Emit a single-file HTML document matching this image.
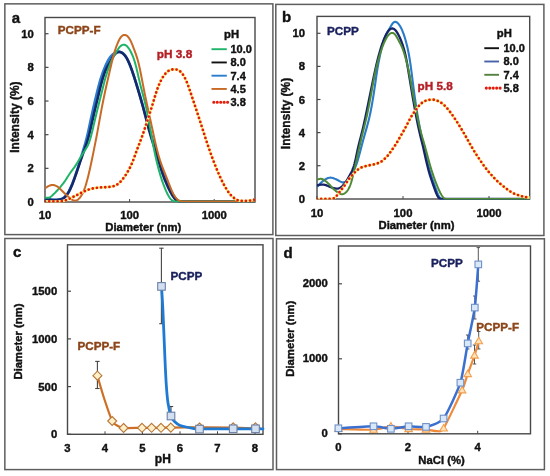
<!DOCTYPE html>
<html><head><meta charset="utf-8"><style>
html,body{margin:0;padding:0;background:#fff;}
svg{display:block;filter:blur(0.3px);}
text{font-family:"Liberation Sans", sans-serif;font-weight:bold;}
</style></head><body>
<svg width="550" height="476" viewBox="0 0 550 476">
<defs>
<clipPath id="clipA"><rect x="45" y="17.5" width="210" height="185"/></clipPath>
<clipPath id="clipB"><rect x="317" y="16.4" width="212.7" height="183.1"/></clipPath>
</defs>
<rect x="0" y="0" width="550" height="476" fill="#fff"/>
<rect x="4.85" y="3.85" width="268.05" height="230.75" fill="none" stroke="#5e5e5e" stroke-width="1.5"/>
<rect x="275.8" y="4.4" width="268.1" height="231.1" fill="none" stroke="#5e5e5e" stroke-width="1.5"/>
<rect x="4.85" y="238.5" width="268.15" height="231.1" fill="none" stroke="#5e5e5e" stroke-width="1.5"/>
<rect x="276.5" y="238.8" width="267.9" height="230.8" fill="none" stroke="#5e5e5e" stroke-width="1.5"/>
<rect x="45" y="17.5" width="210" height="184.5" fill="none" stroke="#484848" stroke-width="1.4"/>
<line x1="45" y1="202" x2="48.5" y2="202" stroke="#484848" stroke-width="1.2"/>
<text x="33.8" y="206" font-size="11.3" text-anchor="end" fill="#111" stroke="#111" stroke-width="0.4">0</text>
<line x1="45" y1="168.34" x2="48.5" y2="168.34" stroke="#484848" stroke-width="1.2"/>
<text x="33.8" y="172.34" font-size="11.3" text-anchor="end" fill="#111" stroke="#111" stroke-width="0.4">2</text>
<line x1="45" y1="134.68" x2="48.5" y2="134.68" stroke="#484848" stroke-width="1.2"/>
<text x="33.8" y="138.68" font-size="11.3" text-anchor="end" fill="#111" stroke="#111" stroke-width="0.4">4</text>
<line x1="45" y1="101.02" x2="48.5" y2="101.02" stroke="#484848" stroke-width="1.2"/>
<text x="33.8" y="105.02" font-size="11.3" text-anchor="end" fill="#111" stroke="#111" stroke-width="0.4">6</text>
<line x1="45" y1="67.36" x2="48.5" y2="67.36" stroke="#484848" stroke-width="1.2"/>
<text x="33.8" y="71.36" font-size="11.3" text-anchor="end" fill="#111" stroke="#111" stroke-width="0.4">8</text>
<line x1="45" y1="33.7" x2="48.5" y2="33.7" stroke="#484848" stroke-width="1.2"/>
<text x="33.8" y="37.7" font-size="11.3" text-anchor="end" fill="#111" stroke="#111" stroke-width="0.4">10</text>
<line x1="45" y1="202" x2="45" y2="199" stroke="#484848" stroke-width="1"/>
<text x="45" y="219" font-size="11.3" text-anchor="middle" fill="#111" stroke="#111" stroke-width="0.4">10</text>
<line x1="129.6" y1="202" x2="129.6" y2="199" stroke="#484848" stroke-width="1"/>
<text x="129.6" y="219" font-size="11.3" text-anchor="middle" fill="#111" stroke="#111" stroke-width="0.4">100</text>
<line x1="214.2" y1="202" x2="214.2" y2="199" stroke="#484848" stroke-width="1"/>
<text x="214.2" y="219" font-size="11.3" text-anchor="middle" fill="#111" stroke="#111" stroke-width="0.4">1000</text>
<text x="143.3" y="231.4" font-size="11.3" text-anchor="middle" fill="#111" stroke="#111" stroke-width="0.4">Diameter (nm)</text>
<text x="19.4" y="117.1" font-size="12" text-anchor="middle" fill="#111" stroke="#111" stroke-width="0.4" transform="rotate(-90 19.4 117.1)">Intensity (%)</text>
<text x="11.8" y="22.7" font-size="15" text-anchor="start" fill="#111" stroke="#111" stroke-width="0.4">a</text>
<text x="57.7" y="33.8" font-size="11.7" text-anchor="start" fill="#8c4519" stroke="#8c4519" stroke-width="0.4">PCPP-F</text>
<text x="156.8" y="57.6" font-size="11.8" text-anchor="start" fill="#b41f26" stroke="#b41f26" stroke-width="0.4">pH 3.8</text>
<text x="224" y="38.3" font-size="11.3" text-anchor="start" fill="#111" stroke="#111" stroke-width="0.4">pH</text>
<line x1="211.5" y1="49.2" x2="226.8" y2="49.2" stroke="#1fb467" stroke-width="1.9"/>
<text x="230.5" y="53" font-size="11" text-anchor="start" fill="#111" stroke="#111" stroke-width="0.4">10.0</text>
<line x1="211.5" y1="62.45" x2="226.8" y2="62.45" stroke="#111111" stroke-width="1.9"/>
<text x="230.5" y="66.25" font-size="11" text-anchor="start" fill="#111" stroke="#111" stroke-width="0.4">8.0</text>
<line x1="211.5" y1="75.7" x2="226.8" y2="75.7" stroke="#2a7ccc" stroke-width="1.9"/>
<text x="230.5" y="79.5" font-size="11" text-anchor="start" fill="#111" stroke="#111" stroke-width="0.4">7.4</text>
<line x1="211.5" y1="88.95" x2="226.8" y2="88.95" stroke="#c86a26" stroke-width="1.9"/>
<text x="230.5" y="92.75" font-size="11" text-anchor="start" fill="#111" stroke="#111" stroke-width="0.4">4.5</text>
<path d="M213.8,102.2 L227.7,102.2" fill="none" stroke="#fff9d0" stroke-width="2.6"/>
<path d="M213.8,102.2 L227.7,102.2" fill="none" stroke="#e31a14" stroke-width="3.1" stroke-linecap="round" stroke-dasharray="0 3.45"/>
<text x="230.5" y="106" font-size="11" text-anchor="start" fill="#111" stroke="#111" stroke-width="0.4">3.8</text>
<g clip-path="url(#clipA)">
<path d="M45.00,198.29 L45.50,198.41 L46.00,198.55 L46.50,198.69 L47.00,198.84 L47.50,198.99 L48.00,199.13 L48.50,199.25 L49.00,199.37 L49.50,199.47 L50.00,199.56 L50.50,199.64 L51.00,199.70 L51.50,199.76 L52.00,199.81 L52.50,199.85 L53.00,199.88 L53.50,199.90 L54.00,199.92 L54.50,199.92 L55.00,199.92 L55.50,199.91 L56.00,199.88 L56.50,199.85 L57.00,199.81 L57.50,199.75 L58.00,199.69 L58.50,199.61 L59.00,199.52 L59.50,199.42 L60.00,199.30 L60.50,199.16 L61.00,198.99 L61.50,198.81 L62.00,198.59 L62.50,198.34 L63.00,198.06 L63.50,197.73 L64.00,197.36 L64.50,196.94 L65.00,196.48 L65.50,195.97 L66.00,195.40 L66.50,194.78 L67.00,194.11 L67.50,193.38 L68.00,192.60 L68.50,191.77 L69.00,190.88 L69.50,189.93 L70.00,188.93 L70.50,187.88 L71.00,186.78 L71.50,185.62 L72.00,184.42 L72.50,183.17 L73.00,181.88 L73.50,180.55 L74.00,179.19 L74.50,177.79 L75.00,176.37 L75.50,174.92 L76.00,173.45 L76.50,171.96 L77.00,170.45 L77.50,168.93 L78.00,167.38 L78.50,165.80 L79.00,164.20 L79.50,162.58 L80.00,160.93 L80.50,159.26 L81.00,157.58 L81.50,155.89 L82.00,154.21 L82.50,152.54 L83.00,150.89 L83.50,149.25 L84.00,147.61 L84.50,145.95 L85.00,144.26 L85.50,142.52 L86.00,140.70 L86.50,138.79 L87.00,136.79 L87.50,134.69 L88.00,132.50 L88.50,130.25 L89.00,127.94 L89.50,125.60 L90.00,123.24 L90.50,120.89 L91.00,118.56 L91.50,116.26 L92.00,113.99 L92.50,111.75 L93.00,109.54 L93.50,107.35 L94.00,105.19 L94.50,103.04 L95.00,100.92 L95.50,98.80 L96.00,96.70 L96.50,94.62 L97.00,92.56 L97.50,90.53 L98.00,88.54 L98.50,86.60 L99.00,84.72 L99.50,82.90 L100.00,81.15 L100.50,79.47 L101.00,77.86 L101.50,76.32 L102.00,74.85 L102.50,73.42 L103.00,72.05 L103.50,70.72 L104.00,69.42 L104.50,68.17 L105.00,66.94 L105.50,65.76 L106.00,64.62 L106.50,63.52 L107.00,62.47 L107.50,61.48 L108.00,60.55 L108.50,59.67 L109.00,58.86 L109.50,58.10 L110.00,57.41 L110.50,56.76 L111.00,56.17 L111.50,55.62 L112.00,55.12 L112.50,54.65 L113.00,54.22 L113.50,53.82 L114.00,53.46 L114.50,53.13 L115.00,52.83 L115.50,52.57 L116.00,52.35 L116.50,52.16 L117.00,52.02 L117.50,51.92 L118.00,51.86 L118.50,51.84 L119.00,51.86 L119.50,51.91 L120.00,52.00 L120.50,52.13 L121.00,52.29 L121.50,52.49 L122.00,52.72 L122.50,53.00 L123.00,53.33 L123.50,53.71 L124.00,54.16 L124.50,54.68 L125.00,55.28 L125.50,55.96 L126.00,56.72 L126.50,57.57 L127.00,58.49 L127.50,59.49 L128.00,60.55 L128.50,61.69 L129.00,62.88 L129.50,64.12 L130.00,65.41 L130.50,66.74 L131.00,68.09 L131.50,69.47 L132.00,70.88 L132.50,72.29 L133.00,73.73 L133.50,75.18 L134.00,76.64 L134.50,78.13 L135.00,79.63 L135.50,81.15 L136.00,82.69 L136.50,84.26 L137.00,85.85 L137.50,87.47 L138.00,89.11 L138.50,90.77 L139.00,92.45 L139.50,94.15 L140.00,95.87 L140.50,97.61 L141.00,99.36 L141.50,101.12 L142.00,102.90 L142.50,104.68 L143.00,106.47 L143.50,108.26 L144.00,110.07 L144.50,111.88 L145.00,113.69 L145.50,115.51 L146.00,117.33 L146.50,119.14 L147.00,120.95 L147.50,122.75 L148.00,124.53 L148.50,126.30 L149.00,128.04 L149.50,129.77 L150.00,131.46 L150.50,133.14 L151.00,134.79 L151.50,136.43 L152.00,138.05 L152.50,139.65 L153.00,141.24 L153.50,142.82 L154.00,144.40 L154.50,145.97 L155.00,147.55 L155.50,149.13 L156.00,150.71 L156.50,152.30 L157.00,153.90 L157.50,155.50 L158.00,157.10 L158.50,158.71 L159.00,160.31 L159.50,161.90 L160.00,163.49 L160.50,165.05 L161.00,166.60 L161.50,168.13 L162.00,169.63 L162.50,171.10 L163.00,172.53 L163.50,173.93 L164.00,175.29 L164.50,176.61 L165.00,177.89 L165.50,179.14 L166.00,180.35 L166.50,181.53 L167.00,182.69 L167.50,183.81 L168.00,184.90 L168.50,185.97 L169.00,187.02 L169.50,188.05 L170.00,189.05 L170.50,190.03 L171.00,191.00 L171.50,191.94 L172.00,192.86 L172.50,193.75 L173.00,194.62 L173.50,195.46 L174.00,196.26 L174.50,197.02 L175.00,197.72 L175.50,198.37 L176.00,198.96 L176.50,199.49 L177.00,199.94 L177.50,200.33 L178.00,200.64 L178.50,200.89 L179.00,201.09 L179.50,201.23 L180.00,201.33 L180.50,201.40 L181.00,201.44 L181.50,201.47 L182.00,201.48 L182.50,201.49 L183.00,201.50 L183.50,201.50 L184.00,201.50 L184.50,201.50 L185.00,201.50 L185.50,201.50 L186.00,201.50 L186.50,201.50 L187.00,201.50 L187.50,201.50 L188.00,201.50 L188.50,201.50 L189.00,201.50 L189.50,201.50 L190.00,201.50 L190.50,201.50 L191.00,201.50 L191.50,201.50 L192.00,201.50 L192.50,201.50 L193.00,201.50 L193.50,201.50 L194.00,201.50 L194.50,201.50 L195.00,201.50 L195.50,201.50 L196.00,201.50 L196.50,201.50 L197.00,201.50 L197.50,201.50 L198.00,201.50 L198.50,201.50 L199.00,201.50 L199.50,201.50 L200.00,201.50 L200.50,201.50 L201.00,201.50 L201.50,201.50 L202.00,201.50 L202.50,201.50 L203.00,201.50 L203.50,201.50 L204.00,201.50 L204.50,201.50 L205.00,201.50 L205.50,201.50 L206.00,201.50 L206.50,201.50 L207.00,201.50 L207.50,201.50 L208.00,201.50 L208.50,201.50 L209.00,201.50 L209.50,201.50 L210.00,201.50 L210.50,201.50 L211.00,201.50 L211.50,201.50 L212.00,201.50 L212.50,201.50 L213.00,201.50 L213.50,201.50 L214.00,201.50 L214.50,201.50 L215.00,201.50 L215.50,201.50 L216.00,201.50 L216.50,201.50 L217.00,201.50 L217.50,201.50 L218.00,201.50 L218.50,201.50 L219.00,201.50 L219.50,201.50 L220.00,201.50 L220.50,201.50 L221.00,201.50 L221.50,201.50 L222.00,201.50 L222.50,201.50 L223.00,201.50 L223.50,201.50 L224.00,201.50 L224.50,201.50 L225.00,201.50 L225.50,201.50 L226.00,201.50 L226.50,201.50 L227.00,201.50 L227.50,201.50 L228.00,201.50 L228.50,201.50 L229.00,201.50 L229.50,201.50 L230.00,201.50 L230.50,201.50 L231.00,201.50 L231.50,201.50 L232.00,201.50 L232.50,201.50 L233.00,201.50 L233.50,201.50 L234.00,201.50 L234.50,201.50 L235.00,201.50 L235.50,201.50 L236.00,201.50 L236.50,201.50 L237.00,201.50 L237.50,201.50 L238.00,201.50 L238.50,201.50 L239.00,201.50 L239.50,201.50 L240.00,201.50 L240.50,201.50 L241.00,201.50 L241.50,201.50 L242.00,201.50 L242.50,201.50 L243.00,201.50 L243.50,201.50 L244.00,201.50 L244.50,201.50 L245.00,201.50 L245.50,201.50 L246.00,201.50 L246.50,201.50 L247.00,201.50 L247.50,201.50 L248.00,201.50 L248.50,201.50 L249.00,201.50 L249.50,201.50 L250.00,201.50 L250.50,201.50 L251.00,201.50 L251.50,201.50 L252.00,201.50 L252.50,201.50 L253.00,201.50 L253.50,201.50 L254.00,201.50 L254.50,201.50 L255.00,201.50" fill="none" stroke="#2a7ccc" stroke-width="2.6" stroke-linejoin="round" stroke-linecap="round"/>
<path d="M45.00,198.29 L45.50,198.41 L46.00,198.55 L46.50,198.69 L47.00,198.84 L47.50,198.99 L48.00,199.14 L48.50,199.27 L49.00,199.39 L49.50,199.50 L50.00,199.59 L50.50,199.68 L51.00,199.75 L51.50,199.82 L52.00,199.87 L52.50,199.92 L53.00,199.96 L53.50,199.99 L54.00,200.01 L54.50,200.02 L55.00,200.03 L55.50,200.02 L56.00,200.01 L56.50,199.99 L57.00,199.95 L57.50,199.91 L58.00,199.87 L58.50,199.81 L59.00,199.74 L59.50,199.65 L60.00,199.56 L60.50,199.44 L61.00,199.30 L61.50,199.14 L62.00,198.96 L62.50,198.74 L63.00,198.48 L63.50,198.18 L64.00,197.84 L64.50,197.46 L65.00,197.02 L65.50,196.53 L66.00,195.99 L66.50,195.40 L67.00,194.75 L67.50,194.04 L68.00,193.27 L68.50,192.45 L69.00,191.57 L69.50,190.63 L70.00,189.63 L70.50,188.59 L71.00,187.48 L71.50,186.33 L72.00,185.13 L72.50,183.88 L73.00,182.59 L73.50,181.27 L74.00,179.91 L74.50,178.53 L75.00,177.12 L75.50,175.69 L76.00,174.25 L76.50,172.79 L77.00,171.32 L77.50,169.85 L78.00,168.37 L78.50,166.88 L79.00,165.39 L79.50,163.90 L80.00,162.41 L80.50,160.93 L81.00,159.45 L81.50,157.99 L82.00,156.53 L82.50,155.10 L83.00,153.68 L83.50,152.27 L84.00,150.89 L84.50,149.51 L85.00,148.12 L85.50,146.72 L86.00,145.29 L86.50,143.82 L87.00,142.27 L87.50,140.65 L88.00,138.94 L88.50,137.13 L89.00,135.23 L89.50,133.24 L90.00,131.18 L90.50,129.05 L91.00,126.88 L91.50,124.69 L92.00,122.49 L92.50,120.30 L93.00,118.11 L93.50,115.94 L94.00,113.80 L94.50,111.67 L95.00,109.55 L95.50,107.45 L96.00,105.35 L96.50,103.26 L97.00,101.18 L97.50,99.09 L98.00,97.00 L98.50,94.92 L99.00,92.84 L99.50,90.78 L100.00,88.75 L100.50,86.75 L101.00,84.80 L101.50,82.91 L102.00,81.09 L102.50,79.33 L103.00,77.66 L103.50,76.07 L104.00,74.56 L104.50,73.14 L105.00,71.82 L105.50,70.57 L106.00,69.42 L106.50,68.34 L107.00,67.33 L107.50,66.39 L108.00,65.48 L108.50,64.61 L109.00,63.76 L109.50,62.90 L110.00,62.04 L110.50,61.17 L111.00,60.29 L111.50,59.40 L112.00,58.52 L112.50,57.66 L113.00,56.84 L113.50,56.06 L114.00,55.35 L114.50,54.70 L115.00,54.11 L115.50,53.60 L116.00,53.16 L116.50,52.78 L117.00,52.47 L117.50,52.22 L118.00,52.04 L118.50,51.92 L119.00,51.87 L119.50,51.89 L120.00,51.97 L120.50,52.10 L121.00,52.30 L121.50,52.55 L122.00,52.85 L122.50,53.20 L123.00,53.60 L123.50,54.05 L124.00,54.55 L124.50,55.10 L125.00,55.71 L125.50,56.38 L126.00,57.11 L126.50,57.90 L127.00,58.75 L127.50,59.66 L128.00,60.63 L128.50,61.66 L129.00,62.74 L129.50,63.88 L130.00,65.08 L130.50,66.33 L131.00,67.63 L131.50,68.99 L132.00,70.40 L132.50,71.86 L133.00,73.36 L133.50,74.90 L134.00,76.48 L134.50,78.08 L135.00,79.70 L135.50,81.34 L136.00,82.99 L136.50,84.65 L137.00,86.31 L137.50,87.98 L138.00,89.65 L138.50,91.32 L139.00,93.00 L139.50,94.69 L140.00,96.39 L140.50,98.10 L141.00,99.83 L141.50,101.58 L142.00,103.35 L142.50,105.15 L143.00,106.97 L143.50,108.82 L144.00,110.71 L144.50,112.62 L145.00,114.55 L145.50,116.50 L146.00,118.46 L146.50,120.42 L147.00,122.37 L147.50,124.31 L148.00,126.21 L148.50,128.07 L149.00,129.89 L149.50,131.68 L150.00,133.41 L150.50,135.11 L151.00,136.77 L151.50,138.40 L152.00,140.01 L152.50,141.60 L153.00,143.18 L153.50,144.76 L154.00,146.34 L154.50,147.92 L155.00,149.51 L155.50,151.12 L156.00,152.73 L156.50,154.36 L157.00,156.00 L157.50,157.65 L158.00,159.30 L158.50,160.94 L159.00,162.59 L159.50,164.22 L160.00,165.83 L160.50,167.43 L161.00,168.99 L161.50,170.52 L162.00,172.02 L162.50,173.48 L163.00,174.90 L163.50,176.28 L164.00,177.62 L164.50,178.92 L165.00,180.18 L165.50,181.41 L166.00,182.60 L166.50,183.76 L167.00,184.90 L167.50,186.00 L168.00,187.08 L168.50,188.13 L169.00,189.15 L169.50,190.15 L170.00,191.13 L170.50,192.07 L171.00,193.00 L171.50,193.89 L172.00,194.75 L172.50,195.57 L173.00,196.36 L173.50,197.10 L174.00,197.78 L174.50,198.42 L175.00,198.99 L175.50,199.50 L176.00,199.94 L176.50,200.32 L177.00,200.63 L177.50,200.88 L178.00,201.07 L178.50,201.21 L179.00,201.32 L179.50,201.39 L180.00,201.43 L180.50,201.46 L181.00,201.48 L181.50,201.49 L182.00,201.50 L182.50,201.50 L183.00,201.50 L183.50,201.50 L184.00,201.50 L184.50,201.50 L185.00,201.50 L185.50,201.50 L186.00,201.50 L186.50,201.50 L187.00,201.50 L187.50,201.50 L188.00,201.50 L188.50,201.50 L189.00,201.50 L189.50,201.50 L190.00,201.50 L190.50,201.50 L191.00,201.50 L191.50,201.50 L192.00,201.50 L192.50,201.50 L193.00,201.50 L193.50,201.50 L194.00,201.50 L194.50,201.50 L195.00,201.50 L195.50,201.50 L196.00,201.50 L196.50,201.50 L197.00,201.50 L197.50,201.50 L198.00,201.50 L198.50,201.50 L199.00,201.50 L199.50,201.50 L200.00,201.50 L200.50,201.50 L201.00,201.50 L201.50,201.50 L202.00,201.50 L202.50,201.50 L203.00,201.50 L203.50,201.50 L204.00,201.50 L204.50,201.50 L205.00,201.50 L205.50,201.50 L206.00,201.50 L206.50,201.50 L207.00,201.50 L207.50,201.50 L208.00,201.50 L208.50,201.50 L209.00,201.50 L209.50,201.50 L210.00,201.50 L210.50,201.50 L211.00,201.50 L211.50,201.50 L212.00,201.50 L212.50,201.50 L213.00,201.50 L213.50,201.50 L214.00,201.50 L214.50,201.50 L215.00,201.50 L215.50,201.50 L216.00,201.50 L216.50,201.50 L217.00,201.50 L217.50,201.50 L218.00,201.50 L218.50,201.50 L219.00,201.50 L219.50,201.50 L220.00,201.50 L220.50,201.50 L221.00,201.50 L221.50,201.50 L222.00,201.50 L222.50,201.50 L223.00,201.50 L223.50,201.50 L224.00,201.50 L224.50,201.50 L225.00,201.50 L225.50,201.50 L226.00,201.50 L226.50,201.50 L227.00,201.50 L227.50,201.50 L228.00,201.50 L228.50,201.50 L229.00,201.50 L229.50,201.50 L230.00,201.50 L230.50,201.50 L231.00,201.50 L231.50,201.50 L232.00,201.50 L232.50,201.50 L233.00,201.50 L233.50,201.50 L234.00,201.50 L234.50,201.50 L235.00,201.50 L235.50,201.50 L236.00,201.50 L236.50,201.50 L237.00,201.50 L237.50,201.50 L238.00,201.50 L238.50,201.50 L239.00,201.50 L239.50,201.50 L240.00,201.50 L240.50,201.50 L241.00,201.50 L241.50,201.50 L242.00,201.50 L242.50,201.50 L243.00,201.50 L243.50,201.50 L244.00,201.50 L244.50,201.50 L245.00,201.50 L245.50,201.50 L246.00,201.50 L246.50,201.50 L247.00,201.50 L247.50,201.50 L248.00,201.50 L248.50,201.50 L249.00,201.50 L249.50,201.50 L250.00,201.50 L250.50,201.50 L251.00,201.50 L251.50,201.50 L252.00,201.50 L252.50,201.50 L253.00,201.50 L253.50,201.50 L254.00,201.50 L254.50,201.50 L255.00,201.50" fill="none" stroke="#15286b" stroke-width="2.6" stroke-linejoin="round" stroke-linecap="round"/>
<path d="M45.00,197.54 L45.50,197.62 L46.00,197.70 L46.50,197.77 L47.00,197.82 L47.50,197.83 L48.00,197.79 L48.50,197.71 L49.00,197.57 L49.50,197.37 L50.00,197.12 L50.50,196.82 L51.00,196.47 L51.50,196.09 L52.00,195.67 L52.50,195.23 L53.00,194.78 L53.50,194.31 L54.00,193.83 L54.50,193.34 L55.00,192.84 L55.50,192.33 L56.00,191.81 L56.50,191.28 L57.00,190.74 L57.50,190.20 L58.00,189.65 L58.50,189.09 L59.00,188.52 L59.50,187.95 L60.00,187.37 L60.50,186.78 L61.00,186.19 L61.50,185.59 L62.00,184.98 L62.50,184.35 L63.00,183.71 L63.50,183.05 L64.00,182.37 L64.50,181.67 L65.00,180.95 L65.50,180.20 L66.00,179.44 L66.50,178.66 L67.00,177.88 L67.50,177.09 L68.00,176.30 L68.50,175.52 L69.00,174.74 L69.50,173.98 L70.00,173.24 L70.50,172.52 L71.00,171.81 L71.50,171.12 L72.00,170.45 L72.50,169.78 L73.00,169.12 L73.50,168.45 L74.00,167.78 L74.50,167.09 L75.00,166.38 L75.50,165.65 L76.00,164.90 L76.50,164.12 L77.00,163.31 L77.50,162.49 L78.00,161.65 L78.50,160.80 L79.00,159.94 L79.50,159.08 L80.00,158.22 L80.50,157.37 L81.00,156.52 L81.50,155.69 L82.00,154.86 L82.50,154.05 L83.00,153.25 L83.50,152.46 L84.00,151.69 L84.50,150.93 L85.00,150.17 L85.50,149.40 L86.00,148.63 L86.50,147.81 L87.00,146.95 L87.50,146.02 L88.00,145.00 L88.50,143.88 L89.00,142.62 L89.50,141.24 L90.00,139.71 L90.50,138.04 L91.00,136.24 L91.50,134.33 L92.00,132.32 L92.50,130.24 L93.00,128.12 L93.50,125.97 L94.00,123.82 L94.50,121.68 L95.00,119.56 L95.50,117.47 L96.00,115.40 L96.50,113.36 L97.00,111.33 L97.50,109.32 L98.00,107.32 L98.50,105.32 L99.00,103.32 L99.50,101.31 L100.00,99.30 L100.50,97.27 L101.00,95.24 L101.50,93.20 L102.00,91.17 L102.50,89.15 L103.00,87.14 L103.50,85.17 L104.00,83.24 L104.50,81.36 L105.00,79.53 L105.50,77.76 L106.00,76.05 L106.50,74.40 L107.00,72.80 L107.50,71.25 L108.00,69.75 L108.50,68.30 L109.00,66.90 L109.50,65.55 L110.00,64.25 L110.50,63.00 L111.00,61.81 L111.50,60.68 L112.00,59.61 L112.50,58.60 L113.00,57.64 L113.50,56.73 L114.00,55.85 L114.50,55.00 L115.00,54.16 L115.50,53.33 L116.00,52.50 L116.50,51.68 L117.00,50.85 L117.50,50.05 L118.00,49.26 L118.50,48.52 L119.00,47.83 L119.50,47.19 L120.00,46.62 L120.50,46.12 L121.00,45.70 L121.50,45.34 L122.00,45.06 L122.50,44.85 L123.00,44.72 L123.50,44.66 L124.00,44.68 L124.50,44.77 L125.00,44.93 L125.50,45.16 L126.00,45.46 L126.50,45.84 L127.00,46.28 L127.50,46.79 L128.00,47.37 L128.50,48.02 L129.00,48.73 L129.50,49.52 L130.00,50.36 L130.50,51.27 L131.00,52.23 L131.50,53.25 L132.00,54.33 L132.50,55.47 L133.00,56.70 L133.50,58.02 L134.00,59.44 L134.50,60.97 L135.00,62.63 L135.50,64.41 L136.00,66.31 L136.50,68.31 L137.00,70.40 L137.50,72.56 L138.00,74.75 L138.50,76.95 L139.00,79.13 L139.50,81.28 L140.00,83.37 L140.50,85.41 L141.00,87.38 L141.50,89.30 L142.00,91.18 L142.50,93.04 L143.00,94.88 L143.50,96.74 L144.00,98.63 L144.50,100.57 L145.00,102.58 L145.50,104.68 L146.00,106.87 L146.50,109.15 L147.00,111.53 L147.50,114.00 L148.00,116.55 L148.50,119.18 L149.00,121.87 L149.50,124.60 L150.00,127.38 L150.50,130.17 L151.00,132.98 L151.50,135.77 L152.00,138.55 L152.50,141.29 L153.00,143.98 L153.50,146.60 L154.00,149.15 L154.50,151.62 L155.00,154.01 L155.50,156.32 L156.00,158.55 L156.50,160.71 L157.00,162.80 L157.50,164.82 L158.00,166.78 L158.50,168.67 L159.00,170.51 L159.50,172.29 L160.00,174.01 L160.50,175.67 L161.00,177.28 L161.50,178.84 L162.00,180.35 L162.50,181.81 L163.00,183.22 L163.50,184.59 L164.00,185.91 L164.50,187.19 L165.00,188.43 L165.50,189.63 L166.00,190.78 L166.50,191.89 L167.00,192.96 L167.50,193.98 L168.00,194.95 L168.50,195.86 L169.00,196.71 L169.50,197.49 L170.00,198.21 L170.50,198.84 L171.00,199.40 L171.50,199.88 L172.00,200.29 L172.50,200.62 L173.00,200.87 L173.50,201.07 L174.00,201.22 L174.50,201.32 L175.00,201.39 L175.50,201.44 L176.00,201.47 L176.50,201.48 L177.00,201.49 L177.50,201.50 L178.00,201.50 L178.50,201.50 L179.00,201.50 L179.50,201.50 L180.00,201.50 L180.50,201.50 L181.00,201.50 L181.50,201.50 L182.00,201.50 L182.50,201.50 L183.00,201.50 L183.50,201.50 L184.00,201.50 L184.50,201.50 L185.00,201.50 L185.50,201.50 L186.00,201.50 L186.50,201.50 L187.00,201.50 L187.50,201.50 L188.00,201.50 L188.50,201.50 L189.00,201.50 L189.50,201.50 L190.00,201.50 L190.50,201.50 L191.00,201.50 L191.50,201.50 L192.00,201.50 L192.50,201.50 L193.00,201.50 L193.50,201.50 L194.00,201.50 L194.50,201.50 L195.00,201.50 L195.50,201.50 L196.00,201.50 L196.50,201.50 L197.00,201.50 L197.50,201.50 L198.00,201.50 L198.50,201.50 L199.00,201.50 L199.50,201.50 L200.00,201.50 L200.50,201.50 L201.00,201.50 L201.50,201.50 L202.00,201.50 L202.50,201.50 L203.00,201.50 L203.50,201.50 L204.00,201.50 L204.50,201.50 L205.00,201.50 L205.50,201.50 L206.00,201.50 L206.50,201.50 L207.00,201.50 L207.50,201.50 L208.00,201.50 L208.50,201.50 L209.00,201.50 L209.50,201.50 L210.00,201.50 L210.50,201.50 L211.00,201.50 L211.50,201.50 L212.00,201.50 L212.50,201.50 L213.00,201.50 L213.50,201.50 L214.00,201.50 L214.50,201.50 L215.00,201.50 L215.50,201.50 L216.00,201.50 L216.50,201.50 L217.00,201.50 L217.50,201.50 L218.00,201.50 L218.50,201.50 L219.00,201.50 L219.50,201.50 L220.00,201.50 L220.50,201.50 L221.00,201.50 L221.50,201.50 L222.00,201.50 L222.50,201.50 L223.00,201.50 L223.50,201.50 L224.00,201.50 L224.50,201.50 L225.00,201.50 L225.50,201.50 L226.00,201.50 L226.50,201.50 L227.00,201.50 L227.50,201.50 L228.00,201.50 L228.50,201.50 L229.00,201.50 L229.50,201.50 L230.00,201.50 L230.50,201.50 L231.00,201.50 L231.50,201.50 L232.00,201.50 L232.50,201.50 L233.00,201.50 L233.50,201.50 L234.00,201.50 L234.50,201.50 L235.00,201.50 L235.50,201.50 L236.00,201.50 L236.50,201.50 L237.00,201.50 L237.50,201.50 L238.00,201.50 L238.50,201.50 L239.00,201.50 L239.50,201.50 L240.00,201.50 L240.50,201.50 L241.00,201.50 L241.50,201.50 L242.00,201.50 L242.50,201.50 L243.00,201.50 L243.50,201.50 L244.00,201.50 L244.50,201.50 L245.00,201.50 L245.50,201.50 L246.00,201.50 L246.50,201.50 L247.00,201.50 L247.50,201.50 L248.00,201.50 L248.50,201.50 L249.00,201.50 L249.50,201.50 L250.00,201.50 L250.50,201.50 L251.00,201.50 L251.50,201.50 L252.00,201.50 L252.50,201.50 L253.00,201.50 L253.50,201.50 L254.00,201.50 L254.50,201.50 L255.00,201.50" fill="none" stroke="#1fb467" stroke-width="2" stroke-linejoin="round" stroke-linecap="round"/>
<path d="M45.00,188.24 L45.50,187.97 L46.00,187.67 L46.50,187.35 L47.00,187.02 L47.50,186.69 L48.00,186.38 L48.50,186.10 L49.00,185.85 L49.50,185.62 L50.00,185.44 L50.50,185.28 L51.00,185.16 L51.50,185.07 L52.00,185.02 L52.50,185.00 L53.00,185.02 L53.50,185.07 L54.00,185.15 L54.50,185.27 L55.00,185.42 L55.50,185.61 L56.00,185.83 L56.50,186.08 L57.00,186.37 L57.50,186.68 L58.00,187.03 L58.50,187.41 L59.00,187.82 L59.50,188.25 L60.00,188.71 L60.50,189.19 L61.00,189.67 L61.50,190.17 L62.00,190.68 L62.50,191.19 L63.00,191.69 L63.50,192.20 L64.00,192.70 L64.50,193.19 L65.00,193.67 L65.50,194.15 L66.00,194.62 L66.50,195.08 L67.00,195.54 L67.50,196.00 L68.00,196.45 L68.50,196.90 L69.00,197.34 L69.50,197.77 L70.00,198.19 L70.50,198.60 L71.00,198.98 L71.50,199.33 L72.00,199.66 L72.50,199.95 L73.00,200.19 L73.50,200.39 L74.00,200.53 L74.50,200.62 L75.00,200.64 L75.50,200.60 L76.00,200.50 L76.50,200.34 L77.00,200.11 L77.50,199.82 L78.00,199.47 L78.50,199.06 L79.00,198.60 L79.50,198.07 L80.00,197.48 L80.50,196.83 L81.00,196.11 L81.50,195.32 L82.00,194.46 L82.50,193.52 L83.00,192.50 L83.50,191.39 L84.00,190.19 L84.50,188.88 L85.00,187.48 L85.50,185.97 L86.00,184.36 L86.50,182.64 L87.00,180.84 L87.50,178.95 L88.00,176.97 L88.50,174.94 L89.00,172.84 L89.50,170.68 L90.00,168.47 L90.50,166.22 L91.00,163.92 L91.50,161.58 L92.00,159.20 L92.50,156.79 L93.00,154.35 L93.50,151.89 L94.00,149.41 L94.50,146.91 L95.00,144.40 L95.50,141.87 L96.00,139.31 L96.50,136.71 L97.00,134.08 L97.50,131.40 L98.00,128.68 L98.50,125.92 L99.00,123.15 L99.50,120.36 L100.00,117.59 L100.50,114.83 L101.00,112.11 L101.50,109.44 L102.00,106.81 L102.50,104.23 L103.00,101.71 L103.50,99.23 L104.00,96.80 L104.50,94.42 L105.00,92.08 L105.50,89.78 L106.00,87.51 L106.50,85.27 L107.00,83.06 L107.50,80.87 L108.00,78.69 L108.50,76.52 L109.00,74.36 L109.50,72.19 L110.00,70.03 L110.50,67.88 L111.00,65.73 L111.50,63.61 L112.00,61.53 L112.50,59.50 L113.00,57.53 L113.50,55.65 L114.00,53.84 L114.50,52.13 L115.00,50.50 L115.50,48.96 L116.00,47.49 L116.50,46.10 L117.00,44.78 L117.50,43.52 L118.00,42.33 L118.50,41.22 L119.00,40.19 L119.50,39.24 L120.00,38.39 L120.50,37.64 L121.00,36.98 L121.50,36.42 L122.00,35.95 L122.50,35.57 L123.00,35.28 L123.50,35.07 L124.00,34.94 L124.50,34.90 L125.00,34.94 L125.50,35.06 L126.00,35.25 L126.50,35.52 L127.00,35.87 L127.50,36.30 L128.00,36.81 L128.50,37.40 L129.00,38.08 L129.50,38.85 L130.00,39.70 L130.50,40.65 L131.00,41.68 L131.50,42.78 L132.00,43.95 L132.50,45.18 L133.00,46.46 L133.50,47.77 L134.00,49.11 L134.50,50.46 L135.00,51.82 L135.50,53.21 L136.00,54.63 L136.50,56.09 L137.00,57.63 L137.50,59.26 L138.00,61.02 L138.50,62.92 L139.00,64.96 L139.50,67.16 L140.00,69.49 L140.50,71.94 L141.00,74.48 L141.50,77.07 L142.00,79.69 L142.50,82.31 L143.00,84.91 L143.50,87.48 L144.00,90.00 L144.50,92.48 L145.00,94.92 L145.50,97.33 L146.00,99.70 L146.50,102.06 L147.00,104.39 L147.50,106.71 L148.00,109.02 L148.50,111.32 L149.00,113.62 L149.50,115.91 L150.00,118.20 L150.50,120.49 L151.00,122.78 L151.50,125.09 L152.00,127.40 L152.50,129.71 L153.00,132.03 L153.50,134.35 L154.00,136.65 L154.50,138.94 L155.00,141.19 L155.50,143.40 L156.00,145.55 L156.50,147.63 L157.00,149.64 L157.50,151.58 L158.00,153.44 L158.50,155.23 L159.00,156.94 L159.50,158.59 L160.00,160.18 L160.50,161.71 L161.00,163.19 L161.50,164.62 L162.00,166.00 L162.50,167.34 L163.00,168.65 L163.50,169.93 L164.00,171.19 L164.50,172.44 L165.00,173.68 L165.50,174.91 L166.00,176.16 L166.50,177.41 L167.00,178.68 L167.50,179.95 L168.00,181.24 L168.50,182.54 L169.00,183.84 L169.50,185.13 L170.00,186.40 L170.50,187.64 L171.00,188.85 L171.50,190.02 L172.00,191.14 L172.50,192.20 L173.00,193.21 L173.50,194.16 L174.00,195.04 L174.50,195.86 L175.00,196.62 L175.50,197.31 L176.00,197.94 L176.50,198.50 L177.00,199.01 L177.50,199.45 L178.00,199.84 L178.50,200.18 L179.00,200.47 L179.50,200.71 L180.00,200.91 L180.50,201.07 L181.00,201.20 L181.50,201.30 L182.00,201.37 L182.50,201.42 L183.00,201.45 L183.50,201.47 L184.00,201.48 L184.50,201.49 L185.00,201.50 L185.50,201.50 L186.00,201.50 L186.50,201.50 L187.00,201.50 L187.50,201.50 L188.00,201.50 L188.50,201.50 L189.00,201.50 L189.50,201.50 L190.00,201.50 L190.50,201.50 L191.00,201.50 L191.50,201.50 L192.00,201.50 L192.50,201.50 L193.00,201.50 L193.50,201.50 L194.00,201.50 L194.50,201.50 L195.00,201.50 L195.50,201.50 L196.00,201.50 L196.50,201.50 L197.00,201.50 L197.50,201.50 L198.00,201.50 L198.50,201.50 L199.00,201.50 L199.50,201.50 L200.00,201.50 L200.50,201.50 L201.00,201.50 L201.50,201.50 L202.00,201.50 L202.50,201.50 L203.00,201.50 L203.50,201.50 L204.00,201.50 L204.50,201.50 L205.00,201.50 L205.50,201.50 L206.00,201.50 L206.50,201.50 L207.00,201.50 L207.50,201.50 L208.00,201.50 L208.50,201.50 L209.00,201.50 L209.50,201.50 L210.00,201.50 L210.50,201.50 L211.00,201.50 L211.50,201.50 L212.00,201.50 L212.50,201.50 L213.00,201.50 L213.50,201.50 L214.00,201.50 L214.50,201.50 L215.00,201.50 L215.50,201.50 L216.00,201.50 L216.50,201.50 L217.00,201.50 L217.50,201.50 L218.00,201.50 L218.50,201.50 L219.00,201.50 L219.50,201.50 L220.00,201.50 L220.50,201.50 L221.00,201.50 L221.50,201.50 L222.00,201.50 L222.50,201.50 L223.00,201.50 L223.50,201.50 L224.00,201.50 L224.50,201.50 L225.00,201.50 L225.50,201.50 L226.00,201.50 L226.50,201.50 L227.00,201.50 L227.50,201.50 L228.00,201.50 L228.50,201.50 L229.00,201.50 L229.50,201.50 L230.00,201.50 L230.50,201.50 L231.00,201.50 L231.50,201.50 L232.00,201.50 L232.50,201.50 L233.00,201.50 L233.50,201.50 L234.00,201.50 L234.50,201.50 L235.00,201.50 L235.50,201.50 L236.00,201.50 L236.50,201.50 L237.00,201.50 L237.50,201.50 L238.00,201.50 L238.50,201.50 L239.00,201.50 L239.50,201.50 L240.00,201.50 L240.50,201.50 L241.00,201.50 L241.50,201.50 L242.00,201.50 L242.50,201.50 L243.00,201.50 L243.50,201.50 L244.00,201.50 L244.50,201.50 L245.00,201.50 L245.50,201.50 L246.00,201.50 L246.50,201.50 L247.00,201.50 L247.50,201.50 L248.00,201.50 L248.50,201.50 L249.00,201.50 L249.50,201.50 L250.00,201.50 L250.50,201.50 L251.00,201.50 L251.50,201.50 L252.00,201.50 L252.50,201.50 L253.00,201.50 L253.50,201.50 L254.00,201.50 L254.50,201.50 L255.00,201.50" fill="none" stroke="#c86a26" stroke-width="2" stroke-linejoin="round" stroke-linecap="round"/>
<path d="M45.00,201.50 L45.50,201.50 L46.00,201.50 L46.50,201.50 L47.00,201.50 L47.50,201.50 L48.00,201.50 L48.50,201.50 L49.00,201.50 L49.50,201.50 L50.00,201.50 L50.50,201.50 L51.00,201.50 L51.50,201.50 L52.00,201.50 L52.50,201.50 L53.00,201.50 L53.50,201.50 L54.00,201.50 L54.50,201.49 L55.00,201.49 L55.50,201.48 L56.00,201.48 L56.50,201.47 L57.00,201.45 L57.50,201.43 L58.00,201.41 L58.50,201.39 L59.00,201.36 L59.50,201.33 L60.00,201.30 L60.50,201.26 L61.00,201.22 L61.50,201.17 L62.00,201.11 L62.50,201.04 L63.00,200.96 L63.50,200.87 L64.00,200.77 L64.50,200.65 L65.00,200.52 L65.50,200.37 L66.00,200.21 L66.50,200.04 L67.00,199.84 L67.50,199.64 L68.00,199.42 L68.50,199.19 L69.00,198.95 L69.50,198.71 L70.00,198.47 L70.50,198.23 L71.00,197.99 L71.50,197.75 L72.00,197.51 L72.50,197.27 L73.00,197.03 L73.50,196.78 L74.00,196.54 L74.50,196.29 L75.00,196.03 L75.50,195.78 L76.00,195.53 L76.50,195.27 L77.00,195.02 L77.50,194.76 L78.00,194.51 L78.50,194.26 L79.00,194.01 L79.50,193.76 L80.00,193.52 L80.50,193.27 L81.00,193.03 L81.50,192.78 L82.00,192.54 L82.50,192.29 L83.00,192.04 L83.50,191.79 L84.00,191.54 L84.50,191.29 L85.00,191.05 L85.50,190.81 L86.00,190.58 L86.50,190.36 L87.00,190.16 L87.50,189.97 L88.00,189.79 L88.50,189.62 L89.00,189.47 L89.50,189.32 L90.00,189.18 L90.50,189.05 L91.00,188.92 L91.50,188.80 L92.00,188.68 L92.50,188.57 L93.00,188.46 L93.50,188.35 L94.00,188.25 L94.50,188.16 L95.00,188.06 L95.50,187.98 L96.00,187.90 L96.50,187.83 L97.00,187.76 L97.50,187.70 L98.00,187.64 L98.50,187.59 L99.00,187.55 L99.50,187.51 L100.00,187.48 L100.50,187.45 L101.00,187.42 L101.50,187.40 L102.00,187.38 L102.50,187.36 L103.00,187.34 L103.50,187.32 L104.00,187.30 L104.50,187.28 L105.00,187.25 L105.50,187.23 L106.00,187.20 L106.50,187.16 L107.00,187.13 L107.50,187.09 L108.00,187.04 L108.50,186.99 L109.00,186.94 L109.50,186.88 L110.00,186.82 L110.50,186.75 L111.00,186.67 L111.50,186.59 L112.00,186.50 L112.50,186.40 L113.00,186.29 L113.50,186.16 L114.00,186.02 L114.50,185.85 L115.00,185.66 L115.50,185.44 L116.00,185.20 L116.50,184.93 L117.00,184.64 L117.50,184.32 L118.00,183.97 L118.50,183.59 L119.00,183.18 L119.50,182.74 L120.00,182.26 L120.50,181.74 L121.00,181.20 L121.50,180.63 L122.00,180.03 L122.50,179.41 L123.00,178.78 L123.50,178.12 L124.00,177.45 L124.50,176.76 L125.00,176.04 L125.50,175.30 L126.00,174.54 L126.50,173.76 L127.00,172.95 L127.50,172.12 L128.00,171.27 L128.50,170.39 L129.00,169.49 L129.50,168.56 L130.00,167.59 L130.50,166.58 L131.00,165.52 L131.50,164.42 L132.00,163.25 L132.50,162.04 L133.00,160.77 L133.50,159.45 L134.00,158.10 L134.50,156.73 L135.00,155.34 L135.50,153.96 L136.00,152.58 L136.50,151.21 L137.00,149.86 L137.50,148.52 L138.00,147.19 L138.50,145.88 L139.00,144.58 L139.50,143.29 L140.00,141.99 L140.50,140.69 L141.00,139.38 L141.50,138.05 L142.00,136.69 L142.50,135.31 L143.00,133.89 L143.50,132.45 L144.00,130.97 L144.50,129.46 L145.00,127.94 L145.50,126.40 L146.00,124.86 L146.50,123.31 L147.00,121.76 L147.50,120.22 L148.00,118.68 L148.50,117.14 L149.00,115.60 L149.50,114.06 L150.00,112.51 L150.50,110.96 L151.00,109.39 L151.50,107.81 L152.00,106.21 L152.50,104.59 L153.00,102.96 L153.50,101.30 L154.00,99.65 L154.50,97.99 L155.00,96.34 L155.50,94.71 L156.00,93.11 L156.50,91.56 L157.00,90.07 L157.50,88.63 L158.00,87.27 L158.50,85.97 L159.00,84.74 L159.50,83.58 L160.00,82.48 L160.50,81.43 L161.00,80.43 L161.50,79.48 L162.00,78.58 L162.50,77.72 L163.00,76.92 L163.50,76.16 L164.00,75.45 L164.50,74.79 L165.00,74.18 L165.50,73.60 L166.00,73.06 L166.50,72.56 L167.00,72.10 L167.50,71.67 L168.00,71.29 L168.50,70.94 L169.00,70.64 L169.50,70.39 L170.00,70.17 L170.50,69.98 L171.00,69.83 L171.50,69.70 L172.00,69.59 L172.50,69.50 L173.00,69.43 L173.50,69.37 L174.00,69.34 L174.50,69.33 L175.00,69.34 L175.50,69.38 L176.00,69.46 L176.50,69.57 L177.00,69.71 L177.50,69.88 L178.00,70.08 L178.50,70.31 L179.00,70.59 L179.50,70.90 L180.00,71.26 L180.50,71.67 L181.00,72.15 L181.50,72.69 L182.00,73.29 L182.50,73.96 L183.00,74.70 L183.50,75.48 L184.00,76.33 L184.50,77.22 L185.00,78.17 L185.50,79.17 L186.00,80.24 L186.50,81.37 L187.00,82.57 L187.50,83.83 L188.00,85.15 L188.50,86.52 L189.00,87.94 L189.50,89.39 L190.00,90.87 L190.50,92.36 L191.00,93.87 L191.50,95.37 L192.00,96.87 L192.50,98.37 L193.00,99.86 L193.50,101.35 L194.00,102.84 L194.50,104.33 L195.00,105.83 L195.50,107.33 L196.00,108.84 L196.50,110.35 L197.00,111.87 L197.50,113.39 L198.00,114.92 L198.50,116.45 L199.00,117.99 L199.50,119.52 L200.00,121.06 L200.50,122.59 L201.00,124.14 L201.50,125.68 L202.00,127.23 L202.50,128.79 L203.00,130.35 L203.50,131.91 L204.00,133.47 L204.50,135.03 L205.00,136.58 L205.50,138.13 L206.00,139.66 L206.50,141.19 L207.00,142.70 L207.50,144.20 L208.00,145.68 L208.50,147.14 L209.00,148.59 L209.50,150.03 L210.00,151.46 L210.50,152.87 L211.00,154.27 L211.50,155.66 L212.00,157.04 L212.50,158.40 L213.00,159.75 L213.50,161.08 L214.00,162.39 L214.50,163.68 L215.00,164.96 L215.50,166.21 L216.00,167.45 L216.50,168.67 L217.00,169.88 L217.50,171.07 L218.00,172.25 L218.50,173.41 L219.00,174.56 L219.50,175.69 L220.00,176.80 L220.50,177.90 L221.00,178.97 L221.50,180.02 L222.00,181.04 L222.50,182.04 L223.00,183.01 L223.50,183.95 L224.00,184.87 L224.50,185.77 L225.00,186.64 L225.50,187.50 L226.00,188.34 L226.50,189.16 L227.00,189.97 L227.50,190.75 L228.00,191.51 L228.50,192.24 L229.00,192.94 L229.50,193.61 L230.00,194.23 L230.50,194.82 L231.00,195.37 L231.50,195.89 L232.00,196.37 L232.50,196.82 L233.00,197.25 L233.50,197.66 L234.00,198.04 L234.50,198.41 L235.00,198.76 L235.50,199.09 L236.00,199.40 L236.50,199.68 L237.00,199.92 L237.50,200.14 L238.00,200.33 L238.50,200.48 L239.00,200.60 L239.50,200.69 L240.00,200.76 L240.50,200.81 L241.00,200.85 L241.50,200.88 L242.00,200.91 L242.50,200.93 L243.00,200.94 L243.50,200.96 L244.00,200.97 L244.50,200.97 L245.00,200.98 L245.50,200.97 L246.00,200.96 L246.50,200.95 L247.00,200.92 L247.50,200.89 L248.00,200.84 L248.50,200.79 L249.00,200.72 L249.50,200.65 L250.00,200.56 L250.50,200.47 L251.00,200.36 L251.50,200.25 L252.00,200.13 L252.50,200.01 L253.00,199.89 L253.50,199.77 L254.00,199.66 L254.50,199.56 L255.00,199.48" fill="none" stroke="#fff27a" stroke-width="2.6" stroke-linecap="round"/>
<path d="M45.00,201.50 L45.50,201.50 L46.00,201.50 L46.50,201.50 L47.00,201.50 L47.50,201.50 L48.00,201.50 L48.50,201.50 L49.00,201.50 L49.50,201.50 L50.00,201.50 L50.50,201.50 L51.00,201.50 L51.50,201.50 L52.00,201.50 L52.50,201.50 L53.00,201.50 L53.50,201.50 L54.00,201.50 L54.50,201.49 L55.00,201.49 L55.50,201.48 L56.00,201.48 L56.50,201.47 L57.00,201.45 L57.50,201.43 L58.00,201.41 L58.50,201.39 L59.00,201.36 L59.50,201.33 L60.00,201.30 L60.50,201.26 L61.00,201.22 L61.50,201.17 L62.00,201.11 L62.50,201.04 L63.00,200.96 L63.50,200.87 L64.00,200.77 L64.50,200.65 L65.00,200.52 L65.50,200.37 L66.00,200.21 L66.50,200.04 L67.00,199.84 L67.50,199.64 L68.00,199.42 L68.50,199.19 L69.00,198.95 L69.50,198.71 L70.00,198.47 L70.50,198.23 L71.00,197.99 L71.50,197.75 L72.00,197.51 L72.50,197.27 L73.00,197.03 L73.50,196.78 L74.00,196.54 L74.50,196.29 L75.00,196.03 L75.50,195.78 L76.00,195.53 L76.50,195.27 L77.00,195.02 L77.50,194.76 L78.00,194.51 L78.50,194.26 L79.00,194.01 L79.50,193.76 L80.00,193.52 L80.50,193.27 L81.00,193.03 L81.50,192.78 L82.00,192.54 L82.50,192.29 L83.00,192.04 L83.50,191.79 L84.00,191.54 L84.50,191.29 L85.00,191.05 L85.50,190.81 L86.00,190.58 L86.50,190.36 L87.00,190.16 L87.50,189.97 L88.00,189.79 L88.50,189.62 L89.00,189.47 L89.50,189.32 L90.00,189.18 L90.50,189.05 L91.00,188.92 L91.50,188.80 L92.00,188.68 L92.50,188.57 L93.00,188.46 L93.50,188.35 L94.00,188.25 L94.50,188.16 L95.00,188.06 L95.50,187.98 L96.00,187.90 L96.50,187.83 L97.00,187.76 L97.50,187.70 L98.00,187.64 L98.50,187.59 L99.00,187.55 L99.50,187.51 L100.00,187.48 L100.50,187.45 L101.00,187.42 L101.50,187.40 L102.00,187.38 L102.50,187.36 L103.00,187.34 L103.50,187.32 L104.00,187.30 L104.50,187.28 L105.00,187.25 L105.50,187.23 L106.00,187.20 L106.50,187.16 L107.00,187.13 L107.50,187.09 L108.00,187.04 L108.50,186.99 L109.00,186.94 L109.50,186.88 L110.00,186.82 L110.50,186.75 L111.00,186.67 L111.50,186.59 L112.00,186.50 L112.50,186.40 L113.00,186.29 L113.50,186.16 L114.00,186.02 L114.50,185.85 L115.00,185.66 L115.50,185.44 L116.00,185.20 L116.50,184.93 L117.00,184.64 L117.50,184.32 L118.00,183.97 L118.50,183.59 L119.00,183.18 L119.50,182.74 L120.00,182.26 L120.50,181.74 L121.00,181.20 L121.50,180.63 L122.00,180.03 L122.50,179.41 L123.00,178.78 L123.50,178.12 L124.00,177.45 L124.50,176.76 L125.00,176.04 L125.50,175.30 L126.00,174.54 L126.50,173.76 L127.00,172.95 L127.50,172.12 L128.00,171.27 L128.50,170.39 L129.00,169.49 L129.50,168.56 L130.00,167.59 L130.50,166.58 L131.00,165.52 L131.50,164.42 L132.00,163.25 L132.50,162.04 L133.00,160.77 L133.50,159.45 L134.00,158.10 L134.50,156.73 L135.00,155.34 L135.50,153.96 L136.00,152.58 L136.50,151.21 L137.00,149.86 L137.50,148.52 L138.00,147.19 L138.50,145.88 L139.00,144.58 L139.50,143.29 L140.00,141.99 L140.50,140.69 L141.00,139.38 L141.50,138.05 L142.00,136.69 L142.50,135.31 L143.00,133.89 L143.50,132.45 L144.00,130.97 L144.50,129.46 L145.00,127.94 L145.50,126.40 L146.00,124.86 L146.50,123.31 L147.00,121.76 L147.50,120.22 L148.00,118.68 L148.50,117.14 L149.00,115.60 L149.50,114.06 L150.00,112.51 L150.50,110.96 L151.00,109.39 L151.50,107.81 L152.00,106.21 L152.50,104.59 L153.00,102.96 L153.50,101.30 L154.00,99.65 L154.50,97.99 L155.00,96.34 L155.50,94.71 L156.00,93.11 L156.50,91.56 L157.00,90.07 L157.50,88.63 L158.00,87.27 L158.50,85.97 L159.00,84.74 L159.50,83.58 L160.00,82.48 L160.50,81.43 L161.00,80.43 L161.50,79.48 L162.00,78.58 L162.50,77.72 L163.00,76.92 L163.50,76.16 L164.00,75.45 L164.50,74.79 L165.00,74.18 L165.50,73.60 L166.00,73.06 L166.50,72.56 L167.00,72.10 L167.50,71.67 L168.00,71.29 L168.50,70.94 L169.00,70.64 L169.50,70.39 L170.00,70.17 L170.50,69.98 L171.00,69.83 L171.50,69.70 L172.00,69.59 L172.50,69.50 L173.00,69.43 L173.50,69.37 L174.00,69.34 L174.50,69.33 L175.00,69.34 L175.50,69.38 L176.00,69.46 L176.50,69.57 L177.00,69.71 L177.50,69.88 L178.00,70.08 L178.50,70.31 L179.00,70.59 L179.50,70.90 L180.00,71.26 L180.50,71.67 L181.00,72.15 L181.50,72.69 L182.00,73.29 L182.50,73.96 L183.00,74.70 L183.50,75.48 L184.00,76.33 L184.50,77.22 L185.00,78.17 L185.50,79.17 L186.00,80.24 L186.50,81.37 L187.00,82.57 L187.50,83.83 L188.00,85.15 L188.50,86.52 L189.00,87.94 L189.50,89.39 L190.00,90.87 L190.50,92.36 L191.00,93.87 L191.50,95.37 L192.00,96.87 L192.50,98.37 L193.00,99.86 L193.50,101.35 L194.00,102.84 L194.50,104.33 L195.00,105.83 L195.50,107.33 L196.00,108.84 L196.50,110.35 L197.00,111.87 L197.50,113.39 L198.00,114.92 L198.50,116.45 L199.00,117.99 L199.50,119.52 L200.00,121.06 L200.50,122.59 L201.00,124.14 L201.50,125.68 L202.00,127.23 L202.50,128.79 L203.00,130.35 L203.50,131.91 L204.00,133.47 L204.50,135.03 L205.00,136.58 L205.50,138.13 L206.00,139.66 L206.50,141.19 L207.00,142.70 L207.50,144.20 L208.00,145.68 L208.50,147.14 L209.00,148.59 L209.50,150.03 L210.00,151.46 L210.50,152.87 L211.00,154.27 L211.50,155.66 L212.00,157.04 L212.50,158.40 L213.00,159.75 L213.50,161.08 L214.00,162.39 L214.50,163.68 L215.00,164.96 L215.50,166.21 L216.00,167.45 L216.50,168.67 L217.00,169.88 L217.50,171.07 L218.00,172.25 L218.50,173.41 L219.00,174.56 L219.50,175.69 L220.00,176.80 L220.50,177.90 L221.00,178.97 L221.50,180.02 L222.00,181.04 L222.50,182.04 L223.00,183.01 L223.50,183.95 L224.00,184.87 L224.50,185.77 L225.00,186.64 L225.50,187.50 L226.00,188.34 L226.50,189.16 L227.00,189.97 L227.50,190.75 L228.00,191.51 L228.50,192.24 L229.00,192.94 L229.50,193.61 L230.00,194.23 L230.50,194.82 L231.00,195.37 L231.50,195.89 L232.00,196.37 L232.50,196.82 L233.00,197.25 L233.50,197.66 L234.00,198.04 L234.50,198.41 L235.00,198.76 L235.50,199.09 L236.00,199.40 L236.50,199.68 L237.00,199.92 L237.50,200.14 L238.00,200.33 L238.50,200.48 L239.00,200.60 L239.50,200.69 L240.00,200.76 L240.50,200.81 L241.00,200.85 L241.50,200.88 L242.00,200.91 L242.50,200.93 L243.00,200.94 L243.50,200.96 L244.00,200.97 L244.50,200.97 L245.00,200.98 L245.50,200.97 L246.00,200.96 L246.50,200.95 L247.00,200.92 L247.50,200.89 L248.00,200.84 L248.50,200.79 L249.00,200.72 L249.50,200.65 L250.00,200.56 L250.50,200.47 L251.00,200.36 L251.50,200.25 L252.00,200.13 L252.50,200.01 L253.00,199.89 L253.50,199.77 L254.00,199.66 L254.50,199.56 L255.00,199.48" fill="none" stroke="#e31a14" stroke-width="2.8" stroke-linecap="round" stroke-dasharray="0 4.2"/>
</g>
<rect x="317" y="16.4" width="212.7" height="182.6" fill="none" stroke="#484848" stroke-width="1.4"/>
<line x1="317" y1="198.8" x2="320.5" y2="198.8" stroke="#484848" stroke-width="1.2"/>
<text x="305" y="202.8" font-size="11.3" text-anchor="end" fill="#111" stroke="#111" stroke-width="0.4">0</text>
<line x1="317" y1="165.7" x2="320.5" y2="165.7" stroke="#484848" stroke-width="1.2"/>
<text x="305" y="169.7" font-size="11.3" text-anchor="end" fill="#111" stroke="#111" stroke-width="0.4">2</text>
<line x1="317" y1="132.6" x2="320.5" y2="132.6" stroke="#484848" stroke-width="1.2"/>
<text x="305" y="136.6" font-size="11.3" text-anchor="end" fill="#111" stroke="#111" stroke-width="0.4">4</text>
<line x1="317" y1="99.5" x2="320.5" y2="99.5" stroke="#484848" stroke-width="1.2"/>
<text x="305" y="103.5" font-size="11.3" text-anchor="end" fill="#111" stroke="#111" stroke-width="0.4">6</text>
<line x1="317" y1="66.4" x2="320.5" y2="66.4" stroke="#484848" stroke-width="1.2"/>
<text x="305" y="70.4" font-size="11.3" text-anchor="end" fill="#111" stroke="#111" stroke-width="0.4">8</text>
<line x1="317" y1="33.3" x2="320.5" y2="33.3" stroke="#484848" stroke-width="1.2"/>
<text x="305" y="37.3" font-size="11.3" text-anchor="end" fill="#111" stroke="#111" stroke-width="0.4">10</text>
<line x1="317" y1="199" x2="317" y2="196" stroke="#484848" stroke-width="1"/>
<text x="317" y="216.7" font-size="11.3" text-anchor="middle" fill="#111" stroke="#111" stroke-width="0.4">10</text>
<line x1="403" y1="199" x2="403" y2="196" stroke="#484848" stroke-width="1"/>
<text x="403" y="216.7" font-size="11.3" text-anchor="middle" fill="#111" stroke="#111" stroke-width="0.4">100</text>
<line x1="489" y1="199" x2="489" y2="196" stroke="#484848" stroke-width="1"/>
<text x="489" y="216.7" font-size="11.3" text-anchor="middle" fill="#111" stroke="#111" stroke-width="0.4">1000</text>
<text x="416.5" y="229" font-size="11.3" text-anchor="middle" fill="#111" stroke="#111" stroke-width="0.4">Diameter (nm)</text>
<text x="290.4" y="113.5" font-size="12" text-anchor="middle" fill="#111" stroke="#111" stroke-width="0.4" transform="rotate(-90 290.4 113.5)">Intensity (%)</text>
<text x="282" y="21.8" font-size="15" text-anchor="start" fill="#111" stroke="#111" stroke-width="0.4">b</text>
<text x="326.9" y="34.6" font-size="11.7" text-anchor="start" fill="#19205c" stroke="#19205c" stroke-width="0.4">PCPP</text>
<text x="417.6" y="90" font-size="11.7" text-anchor="start" fill="#b41f26" stroke="#b41f26" stroke-width="0.4">pH 5.8</text>
<text x="496.8" y="37" font-size="11.3" text-anchor="start" fill="#111" stroke="#111" stroke-width="0.4">pH</text>
<line x1="484.3" y1="48.2" x2="499" y2="48.2" stroke="#111111" stroke-width="1.9"/>
<text x="503.5" y="52" font-size="11" text-anchor="start" fill="#111" stroke="#111" stroke-width="0.4">10.0</text>
<line x1="484.3" y1="61.5" x2="499" y2="61.5" stroke="#4862a8" stroke-width="1.9"/>
<text x="503.5" y="65.3" font-size="11" text-anchor="start" fill="#111" stroke="#111" stroke-width="0.4">8.0</text>
<line x1="484.3" y1="74.8" x2="499" y2="74.8" stroke="#55813f" stroke-width="1.9"/>
<text x="503.5" y="78.6" font-size="11" text-anchor="start" fill="#111" stroke="#111" stroke-width="0.4">7.4</text>
<path d="M486.3,88.1 L500.2,88.1" fill="none" stroke="#fff9d0" stroke-width="2.6"/>
<path d="M486.3,88.1 L500.2,88.1" fill="none" stroke="#e31a14" stroke-width="3.1" stroke-linecap="round" stroke-dasharray="0 3.45"/>
<text x="503.5" y="91.9" font-size="11" text-anchor="start" fill="#111" stroke="#111" stroke-width="0.4">5.8</text>
<g clip-path="url(#clipB)">
<path d="M317.00,186.90 L317.50,186.50 L318.00,186.01 L318.50,185.47 L319.00,184.89 L319.50,184.31 L320.00,183.75 L320.50,183.22 L321.00,182.72 L321.50,182.26 L322.00,181.82 L322.50,181.41 L323.00,181.02 L323.50,180.65 L324.00,180.29 L324.50,179.94 L325.00,179.61 L325.50,179.30 L326.00,179.01 L326.50,178.74 L327.00,178.49 L327.50,178.28 L328.00,178.09 L328.50,177.93 L329.00,177.81 L329.50,177.72 L330.00,177.67 L330.50,177.65 L331.00,177.67 L331.50,177.73 L332.00,177.82 L332.50,177.94 L333.00,178.08 L333.50,178.25 L334.00,178.44 L334.50,178.64 L335.00,178.85 L335.50,179.07 L336.00,179.29 L336.50,179.52 L337.00,179.76 L337.50,180.01 L338.00,180.26 L338.50,180.53 L339.00,180.81 L339.50,181.09 L340.00,181.37 L340.50,181.64 L341.00,181.88 L341.50,182.09 L342.00,182.25 L342.50,182.36 L343.00,182.41 L343.50,182.39 L344.00,182.31 L344.50,182.17 L345.00,181.97 L345.50,181.73 L346.00,181.44 L346.50,181.10 L347.00,180.72 L347.50,180.29 L348.00,179.82 L348.50,179.29 L349.00,178.70 L349.50,178.06 L350.00,177.36 L350.50,176.61 L351.00,175.81 L351.50,174.95 L352.00,174.05 L352.50,173.11 L353.00,172.11 L353.50,171.08 L354.00,170.02 L354.50,168.92 L355.00,167.78 L355.50,166.60 L356.00,165.36 L356.50,164.05 L357.00,162.65 L357.50,161.14 L358.00,159.51 L358.50,157.78 L359.00,155.95 L359.50,154.06 L360.00,152.14 L360.50,150.20 L361.00,148.28 L361.50,146.38 L362.00,144.50 L362.50,142.64 L363.00,140.81 L363.50,138.98 L364.00,137.18 L364.50,135.39 L365.00,133.61 L365.50,131.85 L366.00,130.11 L366.50,128.36 L367.00,126.61 L367.50,124.83 L368.00,122.98 L368.50,121.05 L369.00,119.02 L369.50,116.87 L370.00,114.59 L370.50,112.19 L371.00,109.66 L371.50,107.01 L372.00,104.24 L372.50,101.36 L373.00,98.37 L373.50,95.26 L374.00,92.03 L374.50,88.69 L375.00,85.25 L375.50,81.76 L376.00,78.27 L376.50,74.84 L377.00,71.55 L377.50,68.43 L378.00,65.50 L378.50,62.77 L379.00,60.18 L379.50,57.72 L380.00,55.35 L380.50,53.05 L381.00,50.83 L381.50,48.71 L382.00,46.71 L382.50,44.84 L383.00,43.10 L383.50,41.50 L384.00,40.03 L384.50,38.66 L385.00,37.39 L385.50,36.20 L386.00,35.08 L386.50,34.04 L387.00,33.05 L387.50,32.11 L388.00,31.21 L388.50,30.33 L389.00,29.46 L389.50,28.59 L390.00,27.71 L390.50,26.83 L391.00,25.95 L391.50,25.10 L392.00,24.30 L392.50,23.60 L393.00,23.00 L393.50,22.53 L394.00,22.19 L394.50,21.97 L395.00,21.87 L395.50,21.89 L396.00,22.01 L396.50,22.22 L397.00,22.52 L397.50,22.90 L398.00,23.36 L398.50,23.91 L399.00,24.54 L399.50,25.24 L400.00,26.02 L400.50,26.88 L401.00,27.81 L401.50,28.82 L402.00,29.91 L402.50,31.08 L403.00,32.34 L403.50,33.68 L404.00,35.11 L404.50,36.64 L405.00,38.25 L405.50,39.96 L406.00,41.76 L406.50,43.67 L407.00,45.68 L407.50,47.82 L408.00,50.09 L408.50,52.52 L409.00,55.15 L409.50,58.01 L410.00,61.13 L410.50,64.51 L411.00,68.12 L411.50,71.91 L412.00,75.82 L412.50,79.78 L413.00,83.73 L413.50,87.63 L414.00,91.45 L414.50,95.15 L415.00,98.73 L415.50,102.19 L416.00,105.52 L416.50,108.74 L417.00,111.85 L417.50,114.87 L418.00,117.79 L418.50,120.63 L419.00,123.39 L419.50,126.06 L420.00,128.65 L420.50,131.16 L421.00,133.60 L421.50,135.97 L422.00,138.28 L422.50,140.55 L423.00,142.79 L423.50,145.02 L424.00,147.23 L424.50,149.44 L425.00,151.64 L425.50,153.83 L426.00,156.01 L426.50,158.15 L427.00,160.26 L427.50,162.31 L428.00,164.31 L428.50,166.24 L429.00,168.10 L429.50,169.89 L430.00,171.61 L430.50,173.26 L431.00,174.85 L431.50,176.39 L432.00,177.89 L432.50,179.35 L433.00,180.77 L433.50,182.18 L434.00,183.58 L434.50,184.98 L435.00,186.37 L435.50,187.76 L436.00,189.16 L436.50,190.54 L437.00,191.88 L437.50,193.17 L438.00,194.37 L438.50,195.45 L439.00,196.40 L439.50,197.18 L440.00,197.80 L440.50,198.26 L441.00,198.58 L441.50,198.78 L442.00,198.89 L442.50,198.95 L443.00,198.98 L443.50,198.99 L444.00,199.00 L444.50,199.00 L445.00,199.00 L445.50,199.00 L446.00,199.00 L446.50,199.00 L447.00,199.00 L447.50,199.00 L448.00,199.00 L448.50,199.00 L449.00,199.00 L449.50,199.00 L450.00,199.00 L450.50,199.00 L451.00,199.00 L451.50,199.00 L452.00,199.00 L452.50,199.00 L453.00,199.00 L453.50,199.00 L454.00,199.00 L454.50,199.00 L455.00,199.00 L455.50,199.00 L456.00,199.00 L456.50,199.00 L457.00,199.00 L457.50,199.00 L458.00,199.00 L458.50,199.00 L459.00,199.00 L459.50,199.00 L460.00,199.00 L460.50,199.00 L461.00,199.00 L461.50,199.00 L462.00,199.00 L462.50,199.00 L463.00,199.00 L463.50,199.00 L464.00,199.00 L464.50,199.00 L465.00,199.00 L465.50,199.00 L466.00,199.00 L466.50,199.00 L467.00,199.00 L467.50,199.00 L468.00,199.00 L468.50,199.00 L469.00,199.00 L469.50,199.00 L470.00,199.00 L470.50,199.00 L471.00,199.00 L471.50,199.00 L472.00,199.00 L472.50,199.00 L473.00,199.00 L473.50,199.00 L474.00,199.00 L474.50,199.00 L475.00,199.00 L475.50,199.00 L476.00,199.00 L476.50,199.00 L477.00,199.00 L477.50,199.00 L478.00,199.00 L478.50,199.00 L479.00,199.00 L479.50,199.00 L480.00,199.00 L480.50,199.00 L481.00,199.00 L481.50,199.00 L482.00,199.00 L482.50,199.00 L483.00,199.00 L483.50,199.00 L484.00,199.00 L484.50,199.00 L485.00,199.00 L485.50,199.00 L486.00,199.00 L486.50,199.00 L487.00,199.00 L487.50,199.00 L488.00,199.00 L488.50,199.00 L489.00,199.00 L489.50,199.00 L490.00,199.00 L490.50,199.00 L491.00,199.00 L491.50,199.00 L492.00,199.00 L492.50,199.00 L493.00,199.00 L493.50,199.00 L494.00,199.00 L494.50,199.00 L495.00,199.00 L495.50,199.00 L496.00,199.00 L496.50,199.00 L497.00,199.00 L497.50,199.00 L498.00,199.00 L498.50,199.00 L499.00,199.00 L499.50,199.00 L500.00,199.00 L500.50,199.00 L501.00,199.00 L501.50,199.00 L502.00,199.00 L502.50,199.00 L503.00,199.00 L503.50,199.00 L504.00,199.00 L504.50,199.00 L505.00,199.00 L505.50,199.00 L506.00,199.00 L506.50,199.00 L507.00,199.00 L507.50,199.00 L508.00,199.00 L508.50,199.00 L509.00,199.00 L509.50,199.00 L510.00,199.00 L510.50,199.00 L511.00,199.00 L511.50,199.00 L512.00,199.00 L512.50,199.00 L513.00,199.00 L513.50,199.00 L514.00,199.00 L514.50,199.00 L515.00,199.00 L515.50,199.00 L516.00,199.00 L516.50,199.00 L517.00,199.00 L517.50,199.00 L518.00,199.00 L518.50,199.00 L519.00,199.00 L519.50,199.00 L520.00,199.00 L520.50,199.00 L521.00,199.00 L521.50,199.00 L522.00,199.00 L522.50,199.00 L523.00,199.00 L523.50,199.00 L524.00,199.00 L524.50,199.00 L525.00,199.00 L525.50,199.00 L526.00,199.00 L526.50,199.00 L527.00,199.00 L527.50,199.00 L528.00,199.00 L528.50,199.00 L529.00,199.00 L529.50,199.00 L530.00,199.00 L530.50,199.00" fill="none" stroke="#2a7bc9" stroke-width="2.1" stroke-linejoin="round" stroke-linecap="round"/>
<path d="M317.00,185.33 L317.50,185.25 L318.00,185.16 L318.50,185.06 L319.00,184.96 L319.50,184.87 L320.00,184.78 L320.50,184.71 L321.00,184.65 L321.50,184.61 L322.00,184.59 L322.50,184.58 L323.00,184.59 L323.50,184.63 L324.00,184.69 L324.50,184.77 L325.00,184.89 L325.50,185.03 L326.00,185.19 L326.50,185.37 L327.00,185.57 L327.50,185.78 L328.00,185.99 L328.50,186.21 L329.00,186.44 L329.50,186.65 L330.00,186.87 L330.50,187.07 L331.00,187.26 L331.50,187.43 L332.00,187.60 L332.50,187.75 L333.00,187.90 L333.50,188.03 L334.00,188.16 L334.50,188.28 L335.00,188.39 L335.50,188.49 L336.00,188.56 L336.50,188.61 L337.00,188.63 L337.50,188.61 L338.00,188.55 L338.50,188.44 L339.00,188.27 L339.50,188.05 L340.00,187.79 L340.50,187.47 L341.00,187.12 L341.50,186.73 L342.00,186.31 L342.50,185.86 L343.00,185.38 L343.50,184.88 L344.00,184.34 L344.50,183.76 L345.00,183.14 L345.50,182.46 L346.00,181.74 L346.50,180.97 L347.00,180.16 L347.50,179.31 L348.00,178.44 L348.50,177.55 L349.00,176.65 L349.50,175.74 L350.00,174.83 L350.50,173.91 L351.00,172.96 L351.50,171.97 L352.00,170.91 L352.50,169.78 L353.00,168.53 L353.50,167.14 L354.00,165.59 L354.50,163.85 L355.00,161.91 L355.50,159.78 L356.00,157.49 L356.50,155.11 L357.00,152.69 L357.50,150.32 L358.00,148.03 L358.50,145.85 L359.00,143.78 L359.50,141.79 L360.00,139.86 L360.50,137.96 L361.00,136.05 L361.50,134.11 L362.00,132.13 L362.50,130.08 L363.00,127.97 L363.50,125.80 L364.00,123.57 L364.50,121.29 L365.00,118.97 L365.50,116.63 L366.00,114.26 L366.50,111.88 L367.00,109.48 L367.50,107.06 L368.00,104.64 L368.50,102.21 L369.00,99.77 L369.50,97.33 L370.00,94.88 L370.50,92.44 L371.00,89.99 L371.50,87.55 L372.00,85.12 L372.50,82.69 L373.00,80.27 L373.50,77.87 L374.00,75.51 L374.50,73.17 L375.00,70.88 L375.50,68.64 L376.00,66.46 L376.50,64.33 L377.00,62.25 L377.50,60.24 L378.00,58.28 L378.50,56.37 L379.00,54.52 L379.50,52.72 L380.00,50.98 L380.50,49.29 L381.00,47.67 L381.50,46.10 L382.00,44.61 L382.50,43.17 L383.00,41.80 L383.50,40.49 L384.00,39.24 L384.50,38.04 L385.00,36.91 L385.50,35.83 L386.00,34.83 L386.50,33.88 L387.00,33.00 L387.50,32.20 L388.00,31.46 L388.50,30.80 L389.00,30.22 L389.50,29.72 L390.00,29.30 L390.50,28.96 L391.00,28.71 L391.50,28.55 L392.00,28.48 L392.50,28.49 L393.00,28.58 L393.50,28.76 L394.00,29.02 L394.50,29.36 L395.00,29.78 L395.50,30.29 L396.00,30.89 L396.50,31.56 L397.00,32.31 L397.50,33.12 L398.00,34.00 L398.50,34.93 L399.00,35.92 L399.50,36.96 L400.00,38.07 L400.50,39.23 L401.00,40.45 L401.50,41.74 L402.00,43.08 L402.50,44.50 L403.00,46.00 L403.50,47.60 L404.00,49.31 L404.50,51.16 L405.00,53.16 L405.50,55.34 L406.00,57.70 L406.50,60.25 L407.00,62.95 L407.50,65.79 L408.00,68.72 L408.50,71.71 L409.00,74.74 L409.50,77.78 L410.00,80.83 L410.50,83.86 L411.00,86.89 L411.50,89.89 L412.00,92.86 L412.50,95.80 L413.00,98.70 L413.50,101.57 L414.00,104.40 L414.50,107.20 L415.00,109.96 L415.50,112.68 L416.00,115.36 L416.50,117.98 L417.00,120.55 L417.50,123.05 L418.00,125.46 L418.50,127.80 L419.00,130.05 L419.50,132.22 L420.00,134.32 L420.50,136.36 L421.00,138.38 L421.50,140.38 L422.00,142.40 L422.50,144.46 L423.00,146.56 L423.50,148.72 L424.00,150.92 L424.50,153.16 L425.00,155.42 L425.50,157.68 L426.00,159.92 L426.50,162.12 L427.00,164.26 L427.50,166.32 L428.00,168.30 L428.50,170.18 L429.00,171.99 L429.50,173.71 L430.00,175.36 L430.50,176.96 L431.00,178.50 L431.50,180.00 L432.00,181.47 L432.50,182.92 L433.00,184.34 L433.50,185.75 L434.00,187.16 L434.50,188.55 L435.00,189.92 L435.50,191.26 L436.00,192.55 L436.50,193.77 L437.00,194.89 L437.50,195.90 L438.00,196.76 L438.50,197.47 L439.00,198.01 L439.50,198.41 L440.00,198.67 L440.50,198.83 L441.00,198.92 L441.50,198.97 L442.00,198.99 L442.50,199.00 L443.00,199.00 L443.50,199.00 L444.00,199.00 L444.50,199.00 L445.00,199.00 L445.50,199.00 L446.00,199.00 L446.50,199.00 L447.00,199.00 L447.50,199.00 L448.00,199.00 L448.50,199.00 L449.00,199.00 L449.50,199.00 L450.00,199.00 L450.50,199.00 L451.00,199.00 L451.50,199.00 L452.00,199.00 L452.50,199.00 L453.00,199.00 L453.50,199.00 L454.00,199.00 L454.50,199.00 L455.00,199.00 L455.50,199.00 L456.00,199.00 L456.50,199.00 L457.00,199.00 L457.50,199.00 L458.00,199.00 L458.50,199.00 L459.00,199.00 L459.50,199.00 L460.00,199.00 L460.50,199.00 L461.00,199.00 L461.50,199.00 L462.00,199.00 L462.50,199.00 L463.00,199.00 L463.50,199.00 L464.00,199.00 L464.50,199.00 L465.00,199.00 L465.50,199.00 L466.00,199.00 L466.50,199.00 L467.00,199.00 L467.50,199.00 L468.00,199.00 L468.50,199.00 L469.00,199.00 L469.50,199.00 L470.00,199.00 L470.50,199.00 L471.00,199.00 L471.50,199.00 L472.00,199.00 L472.50,199.00 L473.00,199.00 L473.50,199.00 L474.00,199.00 L474.50,199.00 L475.00,199.00 L475.50,199.00 L476.00,199.00 L476.50,199.00 L477.00,199.00 L477.50,199.00 L478.00,199.00 L478.50,199.00 L479.00,199.00 L479.50,199.00 L480.00,199.00 L480.50,199.00 L481.00,199.00 L481.50,199.00 L482.00,199.00 L482.50,199.00 L483.00,199.00 L483.50,199.00 L484.00,199.00 L484.50,199.00 L485.00,199.00 L485.50,199.00 L486.00,199.00 L486.50,199.00 L487.00,199.00 L487.50,199.00 L488.00,199.00 L488.50,199.00 L489.00,199.00 L489.50,199.00 L490.00,199.00 L490.50,199.00 L491.00,199.00 L491.50,199.00 L492.00,199.00 L492.50,199.00 L493.00,199.00 L493.50,199.00 L494.00,199.00 L494.50,199.00 L495.00,199.00 L495.50,199.00 L496.00,199.00 L496.50,199.00 L497.00,199.00 L497.50,199.00 L498.00,199.00 L498.50,199.00 L499.00,199.00 L499.50,199.00 L500.00,199.00 L500.50,199.00 L501.00,199.00 L501.50,199.00 L502.00,199.00 L502.50,199.00 L503.00,199.00 L503.50,199.00 L504.00,199.00 L504.50,199.00 L505.00,199.00 L505.50,199.00 L506.00,199.00 L506.50,199.00 L507.00,199.00 L507.50,199.00 L508.00,199.00 L508.50,199.00 L509.00,199.00 L509.50,199.00 L510.00,199.00 L510.50,199.00 L511.00,199.00 L511.50,199.00 L512.00,199.00 L512.50,199.00 L513.00,199.00 L513.50,199.00 L514.00,199.00 L514.50,199.00 L515.00,199.00 L515.50,199.00 L516.00,199.00 L516.50,199.00 L517.00,199.00 L517.50,199.00 L518.00,199.00 L518.50,199.00 L519.00,199.00 L519.50,199.00 L520.00,199.00 L520.50,199.00 L521.00,199.00 L521.50,199.00 L522.00,199.00 L522.50,199.00 L523.00,199.00 L523.50,199.00 L524.00,199.00 L524.50,199.00 L525.00,199.00 L525.50,199.00 L526.00,199.00 L526.50,199.00 L527.00,199.00 L527.50,199.00 L528.00,199.00 L528.50,199.00 L529.00,199.00 L529.50,199.00 L530.00,199.00 L530.50,199.00" fill="none" stroke="#17246a" stroke-width="2.3" stroke-linejoin="round" stroke-linecap="round"/>
<path d="M317.00,179.69 L317.50,179.55 L318.00,179.39 L318.50,179.22 L319.00,179.07 L319.50,178.95 L320.00,178.86 L320.50,178.82 L321.00,178.84 L321.50,178.90 L322.00,179.02 L322.50,179.19 L323.00,179.41 L323.50,179.68 L324.00,179.98 L324.50,180.31 L325.00,180.66 L325.50,181.04 L326.00,181.43 L326.50,181.84 L327.00,182.26 L327.50,182.69 L328.00,183.15 L328.50,183.63 L329.00,184.13 L329.50,184.65 L330.00,185.20 L330.50,185.75 L331.00,186.32 L331.50,186.88 L332.00,187.43 L332.50,187.96 L333.00,188.47 L333.50,188.95 L334.00,189.42 L334.50,189.86 L335.00,190.29 L335.50,190.71 L336.00,191.12 L336.50,191.52 L337.00,191.91 L337.50,192.29 L338.00,192.64 L338.50,192.97 L339.00,193.28 L339.50,193.55 L340.00,193.78 L340.50,193.98 L341.00,194.12 L341.50,194.21 L342.00,194.24 L342.50,194.21 L343.00,194.11 L343.50,193.95 L344.00,193.73 L344.50,193.44 L345.00,193.09 L345.50,192.69 L346.00,192.23 L346.50,191.72 L347.00,191.15 L347.50,190.52 L348.00,189.82 L348.50,189.02 L349.00,188.10 L349.50,187.05 L350.00,185.86 L350.50,184.51 L351.00,183.01 L351.50,181.34 L352.00,179.53 L352.50,177.58 L353.00,175.52 L353.50,173.38 L354.00,171.19 L354.50,168.99 L355.00,166.79 L355.50,164.58 L356.00,162.36 L356.50,160.11 L357.00,157.82 L357.50,155.52 L358.00,153.20 L358.50,150.90 L359.00,148.63 L359.50,146.39 L360.00,144.19 L360.50,142.04 L361.00,139.91 L361.50,137.82 L362.00,135.76 L362.50,133.73 L363.00,131.72 L363.50,129.73 L364.00,127.76 L364.50,125.77 L365.00,123.77 L365.50,121.72 L366.00,119.61 L366.50,117.43 L367.00,115.16 L367.50,112.82 L368.00,110.40 L368.50,107.91 L369.00,105.37 L369.50,102.78 L370.00,100.14 L370.50,97.47 L371.00,94.75 L371.50,92.01 L372.00,89.23 L372.50,86.44 L373.00,83.66 L373.50,80.92 L374.00,78.25 L374.50,75.69 L375.00,73.26 L375.50,70.96 L376.00,68.78 L376.50,66.72 L377.00,64.75 L377.50,62.85 L378.00,61.01 L378.50,59.21 L379.00,57.45 L379.50,55.74 L380.00,54.07 L380.50,52.46 L381.00,50.91 L381.50,49.43 L382.00,48.01 L382.50,46.65 L383.00,45.35 L383.50,44.12 L384.00,42.93 L384.50,41.81 L385.00,40.74 L385.50,39.72 L386.00,38.77 L386.50,37.87 L387.00,37.03 L387.50,36.27 L388.00,35.58 L388.50,34.97 L389.00,34.44 L389.50,33.99 L390.00,33.62 L390.50,33.33 L391.00,33.12 L391.50,32.98 L392.00,32.92 L392.50,32.95 L393.00,33.05 L393.50,33.24 L394.00,33.53 L394.50,33.92 L395.00,34.43 L395.50,35.06 L396.00,35.81 L396.50,36.64 L397.00,37.54 L397.50,38.47 L398.00,39.40 L398.50,40.34 L399.00,41.26 L399.50,42.18 L400.00,43.12 L400.50,44.07 L401.00,45.07 L401.50,46.13 L402.00,47.27 L402.50,48.48 L403.00,49.80 L403.50,51.21 L404.00,52.72 L404.50,54.33 L405.00,56.01 L405.50,57.78 L406.00,59.62 L406.50,61.53 L407.00,63.52 L407.50,65.60 L408.00,67.77 L408.50,70.05 L409.00,72.45 L409.50,74.96 L410.00,77.58 L410.50,80.28 L411.00,83.05 L411.50,85.87 L412.00,88.70 L412.50,91.52 L413.00,94.32 L413.50,97.08 L414.00,99.80 L414.50,102.47 L415.00,105.10 L415.50,107.70 L416.00,110.26 L416.50,112.78 L417.00,115.26 L417.50,117.69 L418.00,120.07 L418.50,122.37 L419.00,124.60 L419.50,126.75 L420.00,128.81 L420.50,130.79 L421.00,132.68 L421.50,134.50 L422.00,136.26 L422.50,137.99 L423.00,139.69 L423.50,141.39 L424.00,143.10 L424.50,144.83 L425.00,146.60 L425.50,148.40 L426.00,150.23 L426.50,152.08 L427.00,153.95 L427.50,155.83 L428.00,157.71 L428.50,159.57 L429.00,161.41 L429.50,163.22 L430.00,164.99 L430.50,166.71 L431.00,168.38 L431.50,170.01 L432.00,171.58 L432.50,173.12 L433.00,174.62 L433.50,176.08 L434.00,177.52 L434.50,178.92 L435.00,180.29 L435.50,181.62 L436.00,182.93 L436.50,184.21 L437.00,185.45 L437.50,186.66 L438.00,187.84 L438.50,188.99 L439.00,190.10 L439.50,191.18 L440.00,192.21 L440.50,193.19 L441.00,194.11 L441.50,194.97 L442.00,195.76 L442.50,196.47 L443.00,197.10 L443.50,197.64 L444.00,198.08 L444.50,198.41 L445.00,198.65 L445.50,198.81 L446.00,198.90 L446.50,198.95 L447.00,198.98 L447.50,198.99 L448.00,199.00 L448.50,199.00 L449.00,199.00 L449.50,199.00 L450.00,199.00 L450.50,199.00 L451.00,199.00 L451.50,199.00 L452.00,199.00 L452.50,199.00 L453.00,199.00 L453.50,199.00 L454.00,199.00 L454.50,199.00 L455.00,199.00 L455.50,199.00 L456.00,199.00 L456.50,199.00 L457.00,199.00 L457.50,199.00 L458.00,199.00 L458.50,199.00 L459.00,199.00 L459.50,199.00 L460.00,199.00 L460.50,199.00 L461.00,199.00 L461.50,199.00 L462.00,199.00 L462.50,199.00 L463.00,199.00 L463.50,199.00 L464.00,199.00 L464.50,199.00 L465.00,199.00 L465.50,199.00 L466.00,199.00 L466.50,199.00 L467.00,199.00 L467.50,199.00 L468.00,199.00 L468.50,199.00 L469.00,199.00 L469.50,199.00 L470.00,199.00 L470.50,199.00 L471.00,199.00 L471.50,199.00 L472.00,199.00 L472.50,199.00 L473.00,199.00 L473.50,199.00 L474.00,199.00 L474.50,199.00 L475.00,199.00 L475.50,199.00 L476.00,199.00 L476.50,199.00 L477.00,199.00 L477.50,199.00 L478.00,199.00 L478.50,199.00 L479.00,199.00 L479.50,199.00 L480.00,199.00 L480.50,199.00 L481.00,199.00 L481.50,199.00 L482.00,199.00 L482.50,199.00 L483.00,199.00 L483.50,199.00 L484.00,199.00 L484.50,199.00 L485.00,199.00 L485.50,199.00 L486.00,199.00 L486.50,199.00 L487.00,199.00 L487.50,199.00 L488.00,199.00 L488.50,199.00 L489.00,199.00 L489.50,199.00 L490.00,199.00 L490.50,199.00 L491.00,199.00 L491.50,199.00 L492.00,199.00 L492.50,199.00 L493.00,199.00 L493.50,199.00 L494.00,199.00 L494.50,199.00 L495.00,199.00 L495.50,199.00 L496.00,199.00 L496.50,199.00 L497.00,199.00 L497.50,199.00 L498.00,199.00 L498.50,199.00 L499.00,199.00 L499.50,199.00 L500.00,199.00 L500.50,199.00 L501.00,199.00 L501.50,199.00 L502.00,199.00 L502.50,199.00 L503.00,199.00 L503.50,199.00 L504.00,199.00 L504.50,199.00 L505.00,199.00 L505.50,199.00 L506.00,199.00 L506.50,199.00 L507.00,199.00 L507.50,199.00 L508.00,199.00 L508.50,199.00 L509.00,199.00 L509.50,199.00 L510.00,199.00 L510.50,199.00 L511.00,199.00 L511.50,199.00 L512.00,199.00 L512.50,199.00 L513.00,199.00 L513.50,199.00 L514.00,199.00 L514.50,199.00 L515.00,199.00 L515.50,199.00 L516.00,199.00 L516.50,199.00 L517.00,199.00 L517.50,199.00 L518.00,199.00 L518.50,199.00 L519.00,199.00 L519.50,199.00 L520.00,199.00 L520.50,199.00 L521.00,199.00 L521.50,199.00 L522.00,199.00 L522.50,199.00 L523.00,199.00 L523.50,199.00 L524.00,199.00 L524.50,199.00 L525.00,199.00 L525.50,199.00 L526.00,199.00 L526.50,199.00 L527.00,199.00 L527.50,199.00 L528.00,199.00 L528.50,199.00 L529.00,199.00 L529.50,199.00 L530.00,199.00 L530.50,199.00" fill="none" stroke="#4e8a34" stroke-width="2" stroke-linejoin="round" stroke-linecap="round"/>
<path d="M317.00,199.00 L317.50,199.00 L318.00,199.00 L318.50,199.00 L319.00,199.00 L319.50,199.00 L320.00,198.99 L320.50,198.99 L321.00,198.99 L321.50,198.99 L322.00,198.99 L322.50,198.98 L323.00,198.98 L323.50,198.98 L324.00,198.97 L324.50,198.97 L325.00,198.96 L325.50,198.95 L326.00,198.95 L326.50,198.94 L327.00,198.93 L327.50,198.93 L328.00,198.92 L328.50,198.91 L329.00,198.90 L329.50,198.89 L330.00,198.88 L330.50,198.86 L331.00,198.85 L331.50,198.82 L332.00,198.78 L332.50,198.71 L333.00,198.59 L333.50,198.41 L334.00,198.15 L334.50,197.83 L335.00,197.43 L335.50,196.97 L336.00,196.47 L336.50,195.94 L337.00,195.37 L337.50,194.78 L338.00,194.17 L338.50,193.53 L339.00,192.89 L339.50,192.23 L340.00,191.57 L340.50,190.90 L341.00,190.25 L341.50,189.60 L342.00,188.96 L342.50,188.32 L343.00,187.70 L343.50,187.06 L344.00,186.41 L344.50,185.73 L345.00,185.02 L345.50,184.28 L346.00,183.51 L346.50,182.73 L347.00,181.94 L347.50,181.17 L348.00,180.41 L348.50,179.69 L349.00,178.99 L349.50,178.33 L350.00,177.70 L350.50,177.10 L351.00,176.52 L351.50,175.96 L352.00,175.41 L352.50,174.86 L353.00,174.32 L353.50,173.78 L354.00,173.25 L354.50,172.74 L355.00,172.23 L355.50,171.73 L356.00,171.25 L356.50,170.78 L357.00,170.34 L357.50,169.92 L358.00,169.52 L358.50,169.15 L359.00,168.80 L359.50,168.48 L360.00,168.18 L360.50,167.90 L361.00,167.65 L361.50,167.43 L362.00,167.23 L362.50,167.04 L363.00,166.88 L363.50,166.72 L364.00,166.58 L364.50,166.44 L365.00,166.31 L365.50,166.19 L366.00,166.07 L366.50,165.95 L367.00,165.83 L367.50,165.72 L368.00,165.62 L368.50,165.51 L369.00,165.41 L369.50,165.31 L370.00,165.20 L370.50,165.11 L371.00,165.01 L371.50,164.91 L372.00,164.81 L372.50,164.70 L373.00,164.60 L373.50,164.49 L374.00,164.37 L374.50,164.25 L375.00,164.12 L375.50,163.99 L376.00,163.84 L376.50,163.70 L377.00,163.54 L377.50,163.37 L378.00,163.18 L378.50,162.99 L379.00,162.78 L379.50,162.55 L380.00,162.31 L380.50,162.04 L381.00,161.75 L381.50,161.44 L382.00,161.09 L382.50,160.71 L383.00,160.30 L383.50,159.87 L384.00,159.43 L384.50,158.97 L385.00,158.50 L385.50,158.02 L386.00,157.53 L386.50,157.02 L387.00,156.49 L387.50,155.94 L388.00,155.36 L388.50,154.75 L389.00,154.11 L389.50,153.44 L390.00,152.75 L390.50,152.04 L391.00,151.32 L391.50,150.58 L392.00,149.85 L392.50,149.13 L393.00,148.41 L393.50,147.71 L394.00,147.01 L394.50,146.30 L395.00,145.58 L395.50,144.82 L396.00,144.02 L396.50,143.20 L397.00,142.35 L397.50,141.49 L398.00,140.61 L398.50,139.73 L399.00,138.86 L399.50,137.99 L400.00,137.14 L400.50,136.28 L401.00,135.44 L401.50,134.59 L402.00,133.74 L402.50,132.88 L403.00,132.01 L403.50,131.13 L404.00,130.24 L404.50,129.33 L405.00,128.40 L405.50,127.47 L406.00,126.53 L406.50,125.58 L407.00,124.63 L407.50,123.67 L408.00,122.70 L408.50,121.74 L409.00,120.77 L409.50,119.82 L410.00,118.89 L410.50,117.99 L411.00,117.12 L411.50,116.29 L412.00,115.50 L412.50,114.73 L413.00,113.99 L413.50,113.27 L414.00,112.56 L414.50,111.86 L415.00,111.16 L415.50,110.47 L416.00,109.78 L416.50,109.08 L417.00,108.38 L417.50,107.69 L418.00,107.01 L418.50,106.36 L419.00,105.75 L419.50,105.17 L420.00,104.63 L420.50,104.13 L421.00,103.67 L421.50,103.25 L422.00,102.85 L422.50,102.49 L423.00,102.15 L423.50,101.85 L424.00,101.56 L424.50,101.30 L425.00,101.06 L425.50,100.84 L426.00,100.63 L426.50,100.46 L427.00,100.30 L427.50,100.17 L428.00,100.06 L428.50,99.97 L429.00,99.89 L429.50,99.83 L430.00,99.78 L430.50,99.73 L431.00,99.69 L431.50,99.67 L432.00,99.66 L432.50,99.66 L433.00,99.68 L433.50,99.73 L434.00,99.80 L434.50,99.89 L435.00,100.01 L435.50,100.14 L436.00,100.29 L436.50,100.46 L437.00,100.64 L437.50,100.83 L438.00,101.03 L438.50,101.26 L439.00,101.50 L439.50,101.76 L440.00,102.04 L440.50,102.33 L441.00,102.65 L441.50,102.99 L442.00,103.34 L442.50,103.73 L443.00,104.13 L443.50,104.57 L444.00,105.03 L444.50,105.51 L445.00,106.02 L445.50,106.55 L446.00,107.09 L446.50,107.64 L447.00,108.21 L447.50,108.78 L448.00,109.37 L448.50,109.97 L449.00,110.58 L449.50,111.21 L450.00,111.86 L450.50,112.52 L451.00,113.19 L451.50,113.88 L452.00,114.57 L452.50,115.28 L453.00,115.99 L453.50,116.72 L454.00,117.45 L454.50,118.18 L455.00,118.92 L455.50,119.67 L456.00,120.43 L456.50,121.19 L457.00,121.96 L457.50,122.75 L458.00,123.54 L458.50,124.34 L459.00,125.15 L459.50,125.96 L460.00,126.78 L460.50,127.61 L461.00,128.44 L461.50,129.27 L462.00,130.11 L462.50,130.95 L463.00,131.79 L463.50,132.63 L464.00,133.48 L464.50,134.33 L465.00,135.18 L465.50,136.04 L466.00,136.91 L466.50,137.79 L467.00,138.67 L467.50,139.56 L468.00,140.45 L468.50,141.34 L469.00,142.23 L469.50,143.12 L470.00,144.01 L470.50,144.90 L471.00,145.77 L471.50,146.65 L472.00,147.51 L472.50,148.36 L473.00,149.20 L473.50,150.03 L474.00,150.85 L474.50,151.65 L475.00,152.45 L475.50,153.24 L476.00,154.02 L476.50,154.80 L477.00,155.57 L477.50,156.34 L478.00,157.10 L478.50,157.86 L479.00,158.62 L479.50,159.37 L480.00,160.12 L480.50,160.86 L481.00,161.59 L481.50,162.32 L482.00,163.04 L482.50,163.75 L483.00,164.46 L483.50,165.15 L484.00,165.84 L484.50,166.52 L485.00,167.19 L485.50,167.86 L486.00,168.51 L486.50,169.15 L487.00,169.78 L487.50,170.41 L488.00,171.02 L488.50,171.62 L489.00,172.21 L489.50,172.80 L490.00,173.38 L490.50,173.95 L491.00,174.51 L491.50,175.07 L492.00,175.63 L492.50,176.18 L493.00,176.72 L493.50,177.26 L494.00,177.79 L494.50,178.31 L495.00,178.83 L495.50,179.34 L496.00,179.84 L496.50,180.34 L497.00,180.83 L497.50,181.31 L498.00,181.78 L498.50,182.25 L499.00,182.71 L499.50,183.16 L500.00,183.60 L500.50,184.03 L501.00,184.46 L501.50,184.87 L502.00,185.28 L502.50,185.69 L503.00,186.09 L503.50,186.48 L504.00,186.88 L504.50,187.27 L505.00,187.66 L505.50,188.05 L506.00,188.44 L506.50,188.82 L507.00,189.20 L507.50,189.57 L508.00,189.94 L508.50,190.30 L509.00,190.65 L509.50,191.00 L510.00,191.33 L510.50,191.66 L511.00,191.98 L511.50,192.28 L512.00,192.58 L512.50,192.86 L513.00,193.13 L513.50,193.38 L514.00,193.62 L514.50,193.84 L515.00,194.06 L515.50,194.25 L516.00,194.44 L516.50,194.61 L517.00,194.78 L517.50,194.95 L518.00,195.11 L518.50,195.26 L519.00,195.42 L519.50,195.57 L520.00,195.72 L520.50,195.87 L521.00,196.01 L521.50,196.15 L522.00,196.28 L522.50,196.41 L523.00,196.53 L523.50,196.65 L524.00,196.76 L524.50,196.87 L525.00,196.97 L525.50,197.06 L526.00,197.14 L526.50,197.21 L527.00,197.28 L527.50,197.34 L528.00,197.38 L528.50,197.42 L529.00,197.45 L529.50,197.47 L530.00,197.48" fill="none" stroke="#fff27a" stroke-width="2.6" stroke-linecap="round"/>
<path d="M317.00,199.00 L317.50,199.00 L318.00,199.00 L318.50,199.00 L319.00,199.00 L319.50,199.00 L320.00,198.99 L320.50,198.99 L321.00,198.99 L321.50,198.99 L322.00,198.99 L322.50,198.98 L323.00,198.98 L323.50,198.98 L324.00,198.97 L324.50,198.97 L325.00,198.96 L325.50,198.95 L326.00,198.95 L326.50,198.94 L327.00,198.93 L327.50,198.93 L328.00,198.92 L328.50,198.91 L329.00,198.90 L329.50,198.89 L330.00,198.88 L330.50,198.86 L331.00,198.85 L331.50,198.82 L332.00,198.78 L332.50,198.71 L333.00,198.59 L333.50,198.41 L334.00,198.15 L334.50,197.83 L335.00,197.43 L335.50,196.97 L336.00,196.47 L336.50,195.94 L337.00,195.37 L337.50,194.78 L338.00,194.17 L338.50,193.53 L339.00,192.89 L339.50,192.23 L340.00,191.57 L340.50,190.90 L341.00,190.25 L341.50,189.60 L342.00,188.96 L342.50,188.32 L343.00,187.70 L343.50,187.06 L344.00,186.41 L344.50,185.73 L345.00,185.02 L345.50,184.28 L346.00,183.51 L346.50,182.73 L347.00,181.94 L347.50,181.17 L348.00,180.41 L348.50,179.69 L349.00,178.99 L349.50,178.33 L350.00,177.70 L350.50,177.10 L351.00,176.52 L351.50,175.96 L352.00,175.41 L352.50,174.86 L353.00,174.32 L353.50,173.78 L354.00,173.25 L354.50,172.74 L355.00,172.23 L355.50,171.73 L356.00,171.25 L356.50,170.78 L357.00,170.34 L357.50,169.92 L358.00,169.52 L358.50,169.15 L359.00,168.80 L359.50,168.48 L360.00,168.18 L360.50,167.90 L361.00,167.65 L361.50,167.43 L362.00,167.23 L362.50,167.04 L363.00,166.88 L363.50,166.72 L364.00,166.58 L364.50,166.44 L365.00,166.31 L365.50,166.19 L366.00,166.07 L366.50,165.95 L367.00,165.83 L367.50,165.72 L368.00,165.62 L368.50,165.51 L369.00,165.41 L369.50,165.31 L370.00,165.20 L370.50,165.11 L371.00,165.01 L371.50,164.91 L372.00,164.81 L372.50,164.70 L373.00,164.60 L373.50,164.49 L374.00,164.37 L374.50,164.25 L375.00,164.12 L375.50,163.99 L376.00,163.84 L376.50,163.70 L377.00,163.54 L377.50,163.37 L378.00,163.18 L378.50,162.99 L379.00,162.78 L379.50,162.55 L380.00,162.31 L380.50,162.04 L381.00,161.75 L381.50,161.44 L382.00,161.09 L382.50,160.71 L383.00,160.30 L383.50,159.87 L384.00,159.43 L384.50,158.97 L385.00,158.50 L385.50,158.02 L386.00,157.53 L386.50,157.02 L387.00,156.49 L387.50,155.94 L388.00,155.36 L388.50,154.75 L389.00,154.11 L389.50,153.44 L390.00,152.75 L390.50,152.04 L391.00,151.32 L391.50,150.58 L392.00,149.85 L392.50,149.13 L393.00,148.41 L393.50,147.71 L394.00,147.01 L394.50,146.30 L395.00,145.58 L395.50,144.82 L396.00,144.02 L396.50,143.20 L397.00,142.35 L397.50,141.49 L398.00,140.61 L398.50,139.73 L399.00,138.86 L399.50,137.99 L400.00,137.14 L400.50,136.28 L401.00,135.44 L401.50,134.59 L402.00,133.74 L402.50,132.88 L403.00,132.01 L403.50,131.13 L404.00,130.24 L404.50,129.33 L405.00,128.40 L405.50,127.47 L406.00,126.53 L406.50,125.58 L407.00,124.63 L407.50,123.67 L408.00,122.70 L408.50,121.74 L409.00,120.77 L409.50,119.82 L410.00,118.89 L410.50,117.99 L411.00,117.12 L411.50,116.29 L412.00,115.50 L412.50,114.73 L413.00,113.99 L413.50,113.27 L414.00,112.56 L414.50,111.86 L415.00,111.16 L415.50,110.47 L416.00,109.78 L416.50,109.08 L417.00,108.38 L417.50,107.69 L418.00,107.01 L418.50,106.36 L419.00,105.75 L419.50,105.17 L420.00,104.63 L420.50,104.13 L421.00,103.67 L421.50,103.25 L422.00,102.85 L422.50,102.49 L423.00,102.15 L423.50,101.85 L424.00,101.56 L424.50,101.30 L425.00,101.06 L425.50,100.84 L426.00,100.63 L426.50,100.46 L427.00,100.30 L427.50,100.17 L428.00,100.06 L428.50,99.97 L429.00,99.89 L429.50,99.83 L430.00,99.78 L430.50,99.73 L431.00,99.69 L431.50,99.67 L432.00,99.66 L432.50,99.66 L433.00,99.68 L433.50,99.73 L434.00,99.80 L434.50,99.89 L435.00,100.01 L435.50,100.14 L436.00,100.29 L436.50,100.46 L437.00,100.64 L437.50,100.83 L438.00,101.03 L438.50,101.26 L439.00,101.50 L439.50,101.76 L440.00,102.04 L440.50,102.33 L441.00,102.65 L441.50,102.99 L442.00,103.34 L442.50,103.73 L443.00,104.13 L443.50,104.57 L444.00,105.03 L444.50,105.51 L445.00,106.02 L445.50,106.55 L446.00,107.09 L446.50,107.64 L447.00,108.21 L447.50,108.78 L448.00,109.37 L448.50,109.97 L449.00,110.58 L449.50,111.21 L450.00,111.86 L450.50,112.52 L451.00,113.19 L451.50,113.88 L452.00,114.57 L452.50,115.28 L453.00,115.99 L453.50,116.72 L454.00,117.45 L454.50,118.18 L455.00,118.92 L455.50,119.67 L456.00,120.43 L456.50,121.19 L457.00,121.96 L457.50,122.75 L458.00,123.54 L458.50,124.34 L459.00,125.15 L459.50,125.96 L460.00,126.78 L460.50,127.61 L461.00,128.44 L461.50,129.27 L462.00,130.11 L462.50,130.95 L463.00,131.79 L463.50,132.63 L464.00,133.48 L464.50,134.33 L465.00,135.18 L465.50,136.04 L466.00,136.91 L466.50,137.79 L467.00,138.67 L467.50,139.56 L468.00,140.45 L468.50,141.34 L469.00,142.23 L469.50,143.12 L470.00,144.01 L470.50,144.90 L471.00,145.77 L471.50,146.65 L472.00,147.51 L472.50,148.36 L473.00,149.20 L473.50,150.03 L474.00,150.85 L474.50,151.65 L475.00,152.45 L475.50,153.24 L476.00,154.02 L476.50,154.80 L477.00,155.57 L477.50,156.34 L478.00,157.10 L478.50,157.86 L479.00,158.62 L479.50,159.37 L480.00,160.12 L480.50,160.86 L481.00,161.59 L481.50,162.32 L482.00,163.04 L482.50,163.75 L483.00,164.46 L483.50,165.15 L484.00,165.84 L484.50,166.52 L485.00,167.19 L485.50,167.86 L486.00,168.51 L486.50,169.15 L487.00,169.78 L487.50,170.41 L488.00,171.02 L488.50,171.62 L489.00,172.21 L489.50,172.80 L490.00,173.38 L490.50,173.95 L491.00,174.51 L491.50,175.07 L492.00,175.63 L492.50,176.18 L493.00,176.72 L493.50,177.26 L494.00,177.79 L494.50,178.31 L495.00,178.83 L495.50,179.34 L496.00,179.84 L496.50,180.34 L497.00,180.83 L497.50,181.31 L498.00,181.78 L498.50,182.25 L499.00,182.71 L499.50,183.16 L500.00,183.60 L500.50,184.03 L501.00,184.46 L501.50,184.87 L502.00,185.28 L502.50,185.69 L503.00,186.09 L503.50,186.48 L504.00,186.88 L504.50,187.27 L505.00,187.66 L505.50,188.05 L506.00,188.44 L506.50,188.82 L507.00,189.20 L507.50,189.57 L508.00,189.94 L508.50,190.30 L509.00,190.65 L509.50,191.00 L510.00,191.33 L510.50,191.66 L511.00,191.98 L511.50,192.28 L512.00,192.58 L512.50,192.86 L513.00,193.13 L513.50,193.38 L514.00,193.62 L514.50,193.84 L515.00,194.06 L515.50,194.25 L516.00,194.44 L516.50,194.61 L517.00,194.78 L517.50,194.95 L518.00,195.11 L518.50,195.26 L519.00,195.42 L519.50,195.57 L520.00,195.72 L520.50,195.87 L521.00,196.01 L521.50,196.15 L522.00,196.28 L522.50,196.41 L523.00,196.53 L523.50,196.65 L524.00,196.76 L524.50,196.87 L525.00,196.97 L525.50,197.06 L526.00,197.14 L526.50,197.21 L527.00,197.28 L527.50,197.34 L528.00,197.38 L528.50,197.42 L529.00,197.45 L529.50,197.47 L530.00,197.48" fill="none" stroke="#e31a14" stroke-width="2.8" stroke-linecap="round" stroke-dasharray="0 4.2"/>
</g>
<rect x="67.5" y="244.8" width="195.5" height="189.5" fill="none" stroke="#484848" stroke-width="1.4"/>
<line x1="67.5" y1="434.3" x2="71" y2="434.3" stroke="#484848" stroke-width="1.2"/>
<text x="57.2" y="438.3" font-size="11.3" text-anchor="end" fill="#111" stroke="#111" stroke-width="0.4">0</text>
<line x1="67.5" y1="386.6" x2="71" y2="386.6" stroke="#484848" stroke-width="1.2"/>
<text x="57.2" y="390.6" font-size="11.3" text-anchor="end" fill="#111" stroke="#111" stroke-width="0.4">500</text>
<line x1="67.5" y1="338.9" x2="71" y2="338.9" stroke="#484848" stroke-width="1.2"/>
<text x="57.2" y="342.9" font-size="11.3" text-anchor="end" fill="#111" stroke="#111" stroke-width="0.4">1000</text>
<line x1="67.5" y1="291.2" x2="71" y2="291.2" stroke="#484848" stroke-width="1.2"/>
<text x="57.2" y="295.2" font-size="11.3" text-anchor="end" fill="#111" stroke="#111" stroke-width="0.4">1500</text>
<text x="67.5" y="452" font-size="11.3" text-anchor="middle" fill="#111" stroke="#111" stroke-width="0.4">3</text>
<line x1="105" y1="434.3" x2="105" y2="431.3" stroke="#484848" stroke-width="1"/>
<text x="105" y="452" font-size="11.3" text-anchor="middle" fill="#111" stroke="#111" stroke-width="0.4">4</text>
<line x1="142.5" y1="434.3" x2="142.5" y2="431.3" stroke="#484848" stroke-width="1"/>
<text x="142.5" y="452" font-size="11.3" text-anchor="middle" fill="#111" stroke="#111" stroke-width="0.4">5</text>
<line x1="180" y1="434.3" x2="180" y2="431.3" stroke="#484848" stroke-width="1"/>
<text x="180" y="452" font-size="11.3" text-anchor="middle" fill="#111" stroke="#111" stroke-width="0.4">6</text>
<line x1="217.5" y1="434.3" x2="217.5" y2="431.3" stroke="#484848" stroke-width="1"/>
<text x="217.5" y="452" font-size="11.3" text-anchor="middle" fill="#111" stroke="#111" stroke-width="0.4">7</text>
<line x1="255" y1="434.3" x2="255" y2="431.3" stroke="#484848" stroke-width="1"/>
<text x="255" y="452" font-size="11.3" text-anchor="middle" fill="#111" stroke="#111" stroke-width="0.4">8</text>
<text x="162.8" y="463.2" font-size="12" text-anchor="middle" fill="#111" stroke="#111" stroke-width="0.4">pH</text>
<text x="21.6" y="341.5" font-size="11.3" text-anchor="middle" fill="#111" stroke="#111" stroke-width="0.4" transform="rotate(-90 21.6 341.5)">Diameter (nm)</text>
<text x="13" y="256.7" font-size="15" text-anchor="start" fill="#111" stroke="#111" stroke-width="0.4">c</text>
<text x="77.4" y="350" font-size="11.7" text-anchor="start" fill="#8c4519" stroke="#8c4519" stroke-width="0.4">PCPP-F</text>
<text x="170.4" y="280.2" font-size="11.7" text-anchor="start" fill="#19205c" stroke="#19205c" stroke-width="0.4">PCPP</text>
<line x1="97.4" y1="361.4" x2="97.4" y2="388.5" stroke="#454545" stroke-width="1.1"/>
<line x1="95.2" y1="361.4" x2="99.6" y2="361.4" stroke="#454545" stroke-width="1.1"/>
<line x1="95.2" y1="388.5" x2="99.6" y2="388.5" stroke="#454545" stroke-width="1.1"/>
<line x1="161.4" y1="248.2" x2="161.4" y2="323.7" stroke="#454545" stroke-width="1.1"/>
<line x1="159.2" y1="248.2" x2="163.6" y2="248.2" stroke="#454545" stroke-width="1.1"/>
<line x1="159.2" y1="323.7" x2="163.6" y2="323.7" stroke="#454545" stroke-width="1.1"/>
<line x1="171" y1="406.5" x2="171" y2="416" stroke="#454545" stroke-width="1.1"/>
<line x1="168.8" y1="406.5" x2="173.2" y2="406.5" stroke="#454545" stroke-width="1.1"/>
<line x1="168.8" y1="416" x2="173.2" y2="416" stroke="#454545" stroke-width="1.1"/>
<path d="M97.40,375.70 C98.17,378.30 102.27,392.71 104.00,398.00 C105.73,403.29 110.68,417.79 112.20,421.00 C113.72,424.21 115.67,424.68 117.00,425.50 C118.33,426.32 120.68,427.73 123.60,428.00 C126.52,428.27 137.64,427.82 142.00,427.80 C146.36,427.78 157.64,427.82 161.00,427.80 C164.36,427.78 166.31,427.66 170.80,427.60 C175.29,427.54 192.24,427.31 199.50,427.30 C206.76,427.29 226.47,427.35 233.00,427.50 C239.53,427.65 252.88,428.47 255.50,428.60" fill="none" stroke="#cf6f25" stroke-width="2.2" stroke-linejoin="round" stroke-linecap="round"/>
<path d="M161.50,286.40 C161.69,289.55 162.43,300.19 162.90,310.00 C163.37,319.81 164.55,350.00 165.00,360.00 C165.45,370.00 165.90,379.27 166.30,385.00 C166.70,390.73 167.37,398.87 168.00,403.00 C168.63,407.13 170.13,413.53 171.00,416.00 C171.87,418.47 173.27,420.23 174.50,421.50 C175.73,422.77 177.76,424.59 180.20,425.50 C182.64,426.41 190.24,427.86 192.80,428.30 C195.36,428.74 194.04,428.73 199.40,428.80 C204.76,428.87 224.52,428.80 233.00,428.80 C241.48,428.80 259.00,428.80 263.00,428.80" fill="none" stroke="#1f7bd2" stroke-width="2.8" stroke-linejoin="round" stroke-linecap="round"/>
<path d="M97.4,371.2 L101.9,375.7 L97.4,380.2 L92.9,375.7 Z" fill="#fff0c8" stroke="#b8773a" stroke-width="1.1"/>
<path d="M112.2,416.5 L116.7,421 L112.2,425.5 L107.7,421 Z" fill="#fff0c8" stroke="#b8773a" stroke-width="1.1"/>
<path d="M123.6,423.5 L128.1,428 L123.6,432.5 L119.1,428 Z" fill="#fff0c8" stroke="#b8773a" stroke-width="1.1"/>
<path d="M142,423.3 L146.5,427.8 L142,432.3 L137.5,427.8 Z" fill="#fff0c8" stroke="#b8773a" stroke-width="1.1"/>
<path d="M151.6,423.3 L156.1,427.8 L151.6,432.3 L147.1,427.8 Z" fill="#fff0c8" stroke="#b8773a" stroke-width="1.1"/>
<path d="M161,423.3 L165.5,427.8 L161,432.3 L156.5,427.8 Z" fill="#fff0c8" stroke="#b8773a" stroke-width="1.1"/>
<path d="M170.8,423.1 L175.3,427.6 L170.8,432.1 L166.3,427.6 Z" fill="#fff0c8" stroke="#b8773a" stroke-width="1.1"/>
<path d="M199.5,423 L204,427.5 L199.5,432 L195,427.5 Z" fill="#fff0c8" stroke="#b8773a" stroke-width="1.1"/>
<path d="M233.2,422.8 L237.7,427.3 L233.2,431.8 L228.7,427.3 Z" fill="#fff0c8" stroke="#b8773a" stroke-width="1.1"/>
<path d="M255.5,422.8 L260,427.3 L255.5,431.8 L251,427.3 Z" fill="#fff0c8" stroke="#b8773a" stroke-width="1.1"/>
<rect x="157.7" y="282.6" width="7.6" height="7.6" fill="#d3e0f2" stroke="#6b7fa6" stroke-width="1.1"/>
<rect x="167.2" y="412.2" width="7.6" height="7.6" fill="#d3e0f2" stroke="#6b7fa6" stroke-width="1.1"/>
<rect x="195.7" y="425.3" width="7.6" height="7.6" fill="#d3e0f2" stroke="#6b7fa6" stroke-width="1.1"/>
<rect x="229.4" y="425" width="7.6" height="7.6" fill="#d3e0f2" stroke="#6b7fa6" stroke-width="1.1"/>
<rect x="251.7" y="425" width="7.6" height="7.6" fill="#d3e0f2" stroke="#6b7fa6" stroke-width="1.1"/>
<rect x="338.5" y="246" width="192" height="187.8" fill="none" stroke="#484848" stroke-width="1.4"/>
<line x1="338.5" y1="433.8" x2="342" y2="433.8" stroke="#484848" stroke-width="1.2"/>
<text x="327.8" y="436.8" font-size="11.3" text-anchor="end" fill="#111" stroke="#111" stroke-width="0.4">0</text>
<line x1="338.5" y1="358.8" x2="342" y2="358.8" stroke="#484848" stroke-width="1.2"/>
<text x="327.8" y="361.8" font-size="11.3" text-anchor="end" fill="#111" stroke="#111" stroke-width="0.4">1000</text>
<line x1="338.5" y1="283.8" x2="342" y2="283.8" stroke="#484848" stroke-width="1.2"/>
<text x="327.8" y="286.8" font-size="11.3" text-anchor="end" fill="#111" stroke="#111" stroke-width="0.4">2000</text>
<text x="338.3" y="451" font-size="11.3" text-anchor="middle" fill="#111" stroke="#111" stroke-width="0.4">0</text>
<line x1="408" y1="433.8" x2="408" y2="430.8" stroke="#484848" stroke-width="1"/>
<text x="408" y="451" font-size="11.3" text-anchor="middle" fill="#111" stroke="#111" stroke-width="0.4">2</text>
<line x1="477.7" y1="433.8" x2="477.7" y2="430.8" stroke="#484848" stroke-width="1"/>
<text x="477.7" y="451" font-size="11.3" text-anchor="middle" fill="#111" stroke="#111" stroke-width="0.4">4</text>
<text x="441.6" y="464" font-size="11.3" text-anchor="middle" fill="#111" stroke="#111" stroke-width="0.4">NaCl (%)</text>
<text x="294.2" y="338.7" font-size="11.3" text-anchor="middle" fill="#111" stroke="#111" stroke-width="0.4" transform="rotate(-90 294.2 338.7)">Diameter (nm)</text>
<text x="283.6" y="257.6" font-size="15" text-anchor="start" fill="#111" stroke="#111" stroke-width="0.4">d</text>
<text x="430.9" y="267.2" font-size="11.7" text-anchor="start" fill="#19205c" stroke="#19205c" stroke-width="0.4">PCPP</text>
<text x="476.2" y="331.1" font-size="11.7" text-anchor="start" fill="#8c4519" stroke="#8c4519" stroke-width="0.4">PCPP-F</text>
<line x1="478.3" y1="247.6" x2="478.3" y2="281.2" stroke="#454545" stroke-width="0.9"/>
<line x1="476.55" y1="247.6" x2="480.05" y2="247.6" stroke="#454545" stroke-width="0.9"/>
<line x1="476.55" y1="281.2" x2="480.05" y2="281.2" stroke="#454545" stroke-width="0.9"/>
<line x1="474.8" y1="296" x2="474.8" y2="319" stroke="#454545" stroke-width="0.9"/>
<line x1="473.05" y1="296" x2="476.55" y2="296" stroke="#454545" stroke-width="0.9"/>
<line x1="473.05" y1="319" x2="476.55" y2="319" stroke="#454545" stroke-width="0.9"/>
<line x1="467.7" y1="335" x2="467.7" y2="349" stroke="#454545" stroke-width="0.9"/>
<line x1="465.95" y1="335" x2="469.45" y2="335" stroke="#454545" stroke-width="0.9"/>
<line x1="465.95" y1="349" x2="469.45" y2="349" stroke="#454545" stroke-width="0.9"/>
<line x1="478.7" y1="331.5" x2="478.7" y2="349" stroke="#454545" stroke-width="0.9"/>
<line x1="476.95" y1="331.5" x2="480.45" y2="331.5" stroke="#454545" stroke-width="0.9"/>
<line x1="476.95" y1="349" x2="480.45" y2="349" stroke="#454545" stroke-width="0.9"/>
<line x1="474.5" y1="345" x2="474.5" y2="364" stroke="#454545" stroke-width="0.9"/>
<line x1="472.75" y1="345" x2="476.25" y2="345" stroke="#454545" stroke-width="0.9"/>
<line x1="472.75" y1="364" x2="476.25" y2="364" stroke="#454545" stroke-width="0.9"/>
<path d="M338.40,428.90 C341.91,428.98 368.25,429.95 373.50,429.70 C378.75,429.45 387.39,426.47 390.90,426.40 C394.41,426.33 405.09,428.69 408.60,429.00 C412.11,429.31 423.16,429.28 426.00,429.50 C428.84,429.72 435.24,431.31 437.00,431.20 C438.76,431.09 441.09,432.49 443.60,428.40 C446.11,424.31 459.69,395.74 462.10,390.30 C464.51,384.86 466.46,377.48 467.70,374.00 C468.94,370.52 473.40,358.78 474.50,355.50 C475.60,352.22 478.28,342.63 478.70,341.20" fill="none" stroke="#ef8a3a" stroke-width="2.2" stroke-linejoin="round" stroke-linecap="round"/>
<path d="M338.40,428.30 C341.91,428.10 368.25,426.25 373.50,426.30 C378.75,426.35 387.39,428.80 390.90,428.80 C394.41,428.80 405.09,426.49 408.60,426.30 C412.11,426.11 422.50,427.68 426.00,426.90 C429.50,426.12 440.16,422.92 443.60,418.50 C447.04,414.08 457.99,390.21 460.40,382.70 C462.81,375.19 466.26,350.91 467.70,343.40 C469.14,335.89 473.74,315.50 474.80,307.60 C475.86,299.70 477.95,268.72 478.30,264.40" fill="none" stroke="#3b70d0" stroke-width="2.5" stroke-linejoin="round" stroke-linecap="round"/>
<path d="M338.4,425.024 L342.2,431.484 L334.6,431.484 Z" fill="#ffe2b8" stroke="#f0a050" stroke-width="1.1"/>
<path d="M373.5,425.824 L377.3,432.284 L369.7,432.284 Z" fill="#ffe2b8" stroke="#f0a050" stroke-width="1.1"/>
<path d="M390.9,422.524 L394.7,428.984 L387.1,428.984 Z" fill="#ffe2b8" stroke="#f0a050" stroke-width="1.1"/>
<path d="M408.6,425.124 L412.4,431.584 L404.8,431.584 Z" fill="#ffe2b8" stroke="#f0a050" stroke-width="1.1"/>
<path d="M426,425.624 L429.8,432.084 L422.2,432.084 Z" fill="#ffe2b8" stroke="#f0a050" stroke-width="1.1"/>
<path d="M443.6,424.524 L447.4,430.984 L439.8,430.984 Z" fill="#ffe2b8" stroke="#f0a050" stroke-width="1.1"/>
<path d="M462.1,386.424 L465.9,392.884 L458.3,392.884 Z" fill="#ffe2b8" stroke="#f0a050" stroke-width="1.1"/>
<path d="M467.7,370.124 L471.5,376.584 L463.9,376.584 Z" fill="#ffe2b8" stroke="#f0a050" stroke-width="1.1"/>
<path d="M474.5,351.624 L478.3,358.084 L470.7,358.084 Z" fill="#ffe2b8" stroke="#f0a050" stroke-width="1.1"/>
<path d="M478.7,337.324 L482.5,343.784 L474.9,343.784 Z" fill="#ffe2b8" stroke="#f0a050" stroke-width="1.1"/>
<rect x="335.1" y="425" width="6.6" height="6.6" fill="#d9e8f8" stroke="#6f90c8" stroke-width="1.1"/>
<rect x="370.2" y="423" width="6.6" height="6.6" fill="#d9e8f8" stroke="#6f90c8" stroke-width="1.1"/>
<rect x="387.6" y="425.5" width="6.6" height="6.6" fill="#d9e8f8" stroke="#6f90c8" stroke-width="1.1"/>
<rect x="405.3" y="423" width="6.6" height="6.6" fill="#d9e8f8" stroke="#6f90c8" stroke-width="1.1"/>
<rect x="422.7" y="423.6" width="6.6" height="6.6" fill="#d9e8f8" stroke="#6f90c8" stroke-width="1.1"/>
<rect x="440.3" y="415.2" width="6.6" height="6.6" fill="#d9e8f8" stroke="#6f90c8" stroke-width="1.1"/>
<rect x="457.1" y="379.4" width="6.6" height="6.6" fill="#d9e8f8" stroke="#6f90c8" stroke-width="1.1"/>
<rect x="464.4" y="340.1" width="6.6" height="6.6" fill="#d9e8f8" stroke="#6f90c8" stroke-width="1.1"/>
<rect x="471.5" y="304.3" width="6.6" height="6.6" fill="#d9e8f8" stroke="#6f90c8" stroke-width="1.1"/>
<rect x="475" y="261.1" width="6.6" height="6.6" fill="#d9e8f8" stroke="#6f90c8" stroke-width="1.1"/>
</svg>
</body></html>
